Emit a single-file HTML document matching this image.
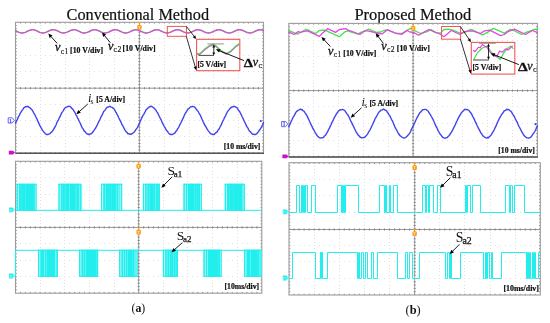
<!DOCTYPE html>
<html><head><meta charset="utf-8"><title>Conventional vs Proposed Method</title>
<style>html,body{margin:0;padding:0;background:#fff;}svg{display:block;}</style>
</head><body>
<svg width="550" height="323" viewBox="0 0 550 323"><rect width="550" height="323" fill="#fff"/>
<text x="66.6" y="19.8" font-family="'Liberation Serif', 'DejaVu Serif', serif" font-size="16.3" font-weight="normal" font-style="normal" fill="#111" text-anchor="start" stroke="#111" stroke-width="0.2">Conventional Method</text>
<text x="354.4" y="20" font-family="'Liberation Serif', 'DejaVu Serif', serif" font-size="16.5" font-weight="normal" font-style="normal" fill="#111" text-anchor="start" stroke="#111" stroke-width="0.2">Proposed Method</text>
<path d="M40 25h1v1h-1zM40 28h1v1h-1zM40 32h1v1h-1zM40 35h1v1h-1zM40 41h1v1h-1zM40 45h1v1h-1zM40 48h1v1h-1zM40 51h1v1h-1zM40 58h1v1h-1zM40 61h1v1h-1zM40 64h1v1h-1zM40 68h1v1h-1zM40 74h1v1h-1zM40 77h1v1h-1zM40 81h1v1h-1zM40 84h1v1h-1zM40 91h1v1h-1zM40 94h1v1h-1zM40 97h1v1h-1zM40 100h1v1h-1zM40 107h1v1h-1zM40 110h1v1h-1zM40 114h1v1h-1zM40 117h1v1h-1zM40 123h1v1h-1zM40 127h1v1h-1zM40 130h1v1h-1zM40 133h1v1h-1zM40 140h1v1h-1zM40 143h1v1h-1zM40 146h1v1h-1zM40 150h1v1h-1zM65 25h1v1h-1zM65 28h1v1h-1zM65 32h1v1h-1zM65 35h1v1h-1zM65 41h1v1h-1zM65 45h1v1h-1zM65 48h1v1h-1zM65 51h1v1h-1zM65 58h1v1h-1zM65 61h1v1h-1zM65 64h1v1h-1zM65 68h1v1h-1zM65 74h1v1h-1zM65 77h1v1h-1zM65 81h1v1h-1zM65 84h1v1h-1zM65 91h1v1h-1zM65 94h1v1h-1zM65 97h1v1h-1zM65 100h1v1h-1zM65 107h1v1h-1zM65 110h1v1h-1zM65 114h1v1h-1zM65 117h1v1h-1zM65 123h1v1h-1zM65 127h1v1h-1zM65 130h1v1h-1zM65 133h1v1h-1zM65 140h1v1h-1zM65 143h1v1h-1zM65 146h1v1h-1zM65 150h1v1h-1zM89 25h1v1h-1zM89 28h1v1h-1zM89 32h1v1h-1zM89 35h1v1h-1zM89 41h1v1h-1zM89 45h1v1h-1zM89 48h1v1h-1zM89 51h1v1h-1zM89 58h1v1h-1zM89 61h1v1h-1zM89 64h1v1h-1zM89 68h1v1h-1zM89 74h1v1h-1zM89 77h1v1h-1zM89 81h1v1h-1zM89 84h1v1h-1zM89 91h1v1h-1zM89 94h1v1h-1zM89 97h1v1h-1zM89 100h1v1h-1zM89 107h1v1h-1zM89 110h1v1h-1zM89 114h1v1h-1zM89 117h1v1h-1zM89 123h1v1h-1zM89 127h1v1h-1zM89 130h1v1h-1zM89 133h1v1h-1zM89 140h1v1h-1zM89 143h1v1h-1zM89 146h1v1h-1zM89 150h1v1h-1zM114 25h1v1h-1zM114 28h1v1h-1zM114 32h1v1h-1zM114 35h1v1h-1zM114 41h1v1h-1zM114 45h1v1h-1zM114 48h1v1h-1zM114 51h1v1h-1zM114 58h1v1h-1zM114 61h1v1h-1zM114 64h1v1h-1zM114 68h1v1h-1zM114 74h1v1h-1zM114 77h1v1h-1zM114 81h1v1h-1zM114 84h1v1h-1zM114 91h1v1h-1zM114 94h1v1h-1zM114 97h1v1h-1zM114 100h1v1h-1zM114 107h1v1h-1zM114 110h1v1h-1zM114 114h1v1h-1zM114 117h1v1h-1zM114 123h1v1h-1zM114 127h1v1h-1zM114 130h1v1h-1zM114 133h1v1h-1zM114 140h1v1h-1zM114 143h1v1h-1zM114 146h1v1h-1zM114 150h1v1h-1zM164 25h1v1h-1zM164 28h1v1h-1zM164 32h1v1h-1zM164 35h1v1h-1zM164 41h1v1h-1zM164 45h1v1h-1zM164 48h1v1h-1zM164 51h1v1h-1zM164 58h1v1h-1zM164 61h1v1h-1zM164 64h1v1h-1zM164 68h1v1h-1zM164 74h1v1h-1zM164 77h1v1h-1zM164 81h1v1h-1zM164 84h1v1h-1zM164 91h1v1h-1zM164 94h1v1h-1zM164 97h1v1h-1zM164 100h1v1h-1zM164 107h1v1h-1zM164 110h1v1h-1zM164 114h1v1h-1zM164 117h1v1h-1zM164 123h1v1h-1zM164 127h1v1h-1zM164 130h1v1h-1zM164 133h1v1h-1zM164 140h1v1h-1zM164 143h1v1h-1zM164 146h1v1h-1zM164 150h1v1h-1zM189 25h1v1h-1zM189 28h1v1h-1zM189 32h1v1h-1zM189 35h1v1h-1zM189 41h1v1h-1zM189 45h1v1h-1zM189 48h1v1h-1zM189 51h1v1h-1zM189 58h1v1h-1zM189 61h1v1h-1zM189 64h1v1h-1zM189 68h1v1h-1zM189 74h1v1h-1zM189 77h1v1h-1zM189 81h1v1h-1zM189 84h1v1h-1zM189 91h1v1h-1zM189 94h1v1h-1zM189 97h1v1h-1zM189 100h1v1h-1zM189 107h1v1h-1zM189 110h1v1h-1zM189 114h1v1h-1zM189 117h1v1h-1zM189 123h1v1h-1zM189 127h1v1h-1zM189 130h1v1h-1zM189 133h1v1h-1zM189 140h1v1h-1zM189 143h1v1h-1zM189 146h1v1h-1zM189 150h1v1h-1zM213 25h1v1h-1zM213 28h1v1h-1zM213 32h1v1h-1zM213 35h1v1h-1zM213 41h1v1h-1zM213 45h1v1h-1zM213 48h1v1h-1zM213 51h1v1h-1zM213 58h1v1h-1zM213 61h1v1h-1zM213 64h1v1h-1zM213 68h1v1h-1zM213 74h1v1h-1zM213 77h1v1h-1zM213 81h1v1h-1zM213 84h1v1h-1zM213 91h1v1h-1zM213 94h1v1h-1zM213 97h1v1h-1zM213 100h1v1h-1zM213 107h1v1h-1zM213 110h1v1h-1zM213 114h1v1h-1zM213 117h1v1h-1zM213 123h1v1h-1zM213 127h1v1h-1zM213 130h1v1h-1zM213 133h1v1h-1zM213 140h1v1h-1zM213 143h1v1h-1zM213 146h1v1h-1zM213 150h1v1h-1zM238 25h1v1h-1zM238 28h1v1h-1zM238 32h1v1h-1zM238 35h1v1h-1zM238 41h1v1h-1zM238 45h1v1h-1zM238 48h1v1h-1zM238 51h1v1h-1zM238 58h1v1h-1zM238 61h1v1h-1zM238 64h1v1h-1zM238 68h1v1h-1zM238 74h1v1h-1zM238 77h1v1h-1zM238 81h1v1h-1zM238 84h1v1h-1zM238 91h1v1h-1zM238 94h1v1h-1zM238 97h1v1h-1zM238 100h1v1h-1zM238 107h1v1h-1zM238 110h1v1h-1zM238 114h1v1h-1zM238 117h1v1h-1zM238 123h1v1h-1zM238 127h1v1h-1zM238 130h1v1h-1zM238 133h1v1h-1zM238 140h1v1h-1zM238 143h1v1h-1zM238 146h1v1h-1zM238 150h1v1h-1zM20 38h1v1h-1zM25 38h1v1h-1zM30 38h1v1h-1zM35 38h1v1h-1zM40 38h1v1h-1zM45 38h1v1h-1zM50 38h1v1h-1zM55 38h1v1h-1zM60 38h1v1h-1zM65 38h1v1h-1zM70 38h1v1h-1zM75 38h1v1h-1zM79 38h1v1h-1zM84 38h1v1h-1zM89 38h1v1h-1zM94 38h1v1h-1zM99 38h1v1h-1zM104 38h1v1h-1zM109 38h1v1h-1zM114 38h1v1h-1zM119 38h1v1h-1zM124 38h1v1h-1zM129 38h1v1h-1zM134 38h1v1h-1zM139 38h1v1h-1zM144 38h1v1h-1zM149 38h1v1h-1zM154 38h1v1h-1zM159 38h1v1h-1zM164 38h1v1h-1zM169 38h1v1h-1zM174 38h1v1h-1zM179 38h1v1h-1zM184 38h1v1h-1zM189 38h1v1h-1zM194 38h1v1h-1zM199 38h1v1h-1zM203 38h1v1h-1zM208 38h1v1h-1zM213 38h1v1h-1zM218 38h1v1h-1zM223 38h1v1h-1zM228 38h1v1h-1zM233 38h1v1h-1zM238 38h1v1h-1zM243 38h1v1h-1zM248 38h1v1h-1zM253 38h1v1h-1zM258 38h1v1h-1zM20 55h1v1h-1zM25 55h1v1h-1zM30 55h1v1h-1zM35 55h1v1h-1zM40 55h1v1h-1zM45 55h1v1h-1zM50 55h1v1h-1zM55 55h1v1h-1zM60 55h1v1h-1zM65 55h1v1h-1zM70 55h1v1h-1zM75 55h1v1h-1zM79 55h1v1h-1zM84 55h1v1h-1zM89 55h1v1h-1zM94 55h1v1h-1zM99 55h1v1h-1zM104 55h1v1h-1zM109 55h1v1h-1zM114 55h1v1h-1zM119 55h1v1h-1zM124 55h1v1h-1zM129 55h1v1h-1zM134 55h1v1h-1zM139 55h1v1h-1zM144 55h1v1h-1zM149 55h1v1h-1zM154 55h1v1h-1zM159 55h1v1h-1zM164 55h1v1h-1zM169 55h1v1h-1zM174 55h1v1h-1zM179 55h1v1h-1zM184 55h1v1h-1zM189 55h1v1h-1zM194 55h1v1h-1zM199 55h1v1h-1zM203 55h1v1h-1zM208 55h1v1h-1zM213 55h1v1h-1zM218 55h1v1h-1zM223 55h1v1h-1zM228 55h1v1h-1zM233 55h1v1h-1zM238 55h1v1h-1zM243 55h1v1h-1zM248 55h1v1h-1zM253 55h1v1h-1zM258 55h1v1h-1zM20 71h1v1h-1zM25 71h1v1h-1zM30 71h1v1h-1zM35 71h1v1h-1zM40 71h1v1h-1zM45 71h1v1h-1zM50 71h1v1h-1zM55 71h1v1h-1zM60 71h1v1h-1zM65 71h1v1h-1zM70 71h1v1h-1zM75 71h1v1h-1zM79 71h1v1h-1zM84 71h1v1h-1zM89 71h1v1h-1zM94 71h1v1h-1zM99 71h1v1h-1zM104 71h1v1h-1zM109 71h1v1h-1zM114 71h1v1h-1zM119 71h1v1h-1zM124 71h1v1h-1zM129 71h1v1h-1zM134 71h1v1h-1zM139 71h1v1h-1zM144 71h1v1h-1zM149 71h1v1h-1zM154 71h1v1h-1zM159 71h1v1h-1zM164 71h1v1h-1zM169 71h1v1h-1zM174 71h1v1h-1zM179 71h1v1h-1zM184 71h1v1h-1zM189 71h1v1h-1zM194 71h1v1h-1zM199 71h1v1h-1zM203 71h1v1h-1zM208 71h1v1h-1zM213 71h1v1h-1zM218 71h1v1h-1zM223 71h1v1h-1zM228 71h1v1h-1zM233 71h1v1h-1zM238 71h1v1h-1zM243 71h1v1h-1zM248 71h1v1h-1zM253 71h1v1h-1zM258 71h1v1h-1zM20 104h1v1h-1zM25 104h1v1h-1zM30 104h1v1h-1zM35 104h1v1h-1zM40 104h1v1h-1zM45 104h1v1h-1zM50 104h1v1h-1zM55 104h1v1h-1zM60 104h1v1h-1zM65 104h1v1h-1zM70 104h1v1h-1zM75 104h1v1h-1zM79 104h1v1h-1zM84 104h1v1h-1zM89 104h1v1h-1zM94 104h1v1h-1zM99 104h1v1h-1zM104 104h1v1h-1zM109 104h1v1h-1zM114 104h1v1h-1zM119 104h1v1h-1zM124 104h1v1h-1zM129 104h1v1h-1zM134 104h1v1h-1zM139 104h1v1h-1zM144 104h1v1h-1zM149 104h1v1h-1zM154 104h1v1h-1zM159 104h1v1h-1zM164 104h1v1h-1zM169 104h1v1h-1zM174 104h1v1h-1zM179 104h1v1h-1zM184 104h1v1h-1zM189 104h1v1h-1zM194 104h1v1h-1zM199 104h1v1h-1zM203 104h1v1h-1zM208 104h1v1h-1zM213 104h1v1h-1zM218 104h1v1h-1zM223 104h1v1h-1zM228 104h1v1h-1zM233 104h1v1h-1zM238 104h1v1h-1zM243 104h1v1h-1zM248 104h1v1h-1zM253 104h1v1h-1zM258 104h1v1h-1zM20 120h1v1h-1zM25 120h1v1h-1zM30 120h1v1h-1zM35 120h1v1h-1zM40 120h1v1h-1zM45 120h1v1h-1zM50 120h1v1h-1zM55 120h1v1h-1zM60 120h1v1h-1zM65 120h1v1h-1zM70 120h1v1h-1zM75 120h1v1h-1zM79 120h1v1h-1zM84 120h1v1h-1zM89 120h1v1h-1zM94 120h1v1h-1zM99 120h1v1h-1zM104 120h1v1h-1zM109 120h1v1h-1zM114 120h1v1h-1zM119 120h1v1h-1zM124 120h1v1h-1zM129 120h1v1h-1zM134 120h1v1h-1zM139 120h1v1h-1zM144 120h1v1h-1zM149 120h1v1h-1zM154 120h1v1h-1zM159 120h1v1h-1zM164 120h1v1h-1zM169 120h1v1h-1zM174 120h1v1h-1zM179 120h1v1h-1zM184 120h1v1h-1zM189 120h1v1h-1zM194 120h1v1h-1zM199 120h1v1h-1zM203 120h1v1h-1zM208 120h1v1h-1zM213 120h1v1h-1zM218 120h1v1h-1zM223 120h1v1h-1zM228 120h1v1h-1zM233 120h1v1h-1zM238 120h1v1h-1zM243 120h1v1h-1zM248 120h1v1h-1zM253 120h1v1h-1zM258 120h1v1h-1zM20 136h1v1h-1zM25 136h1v1h-1zM30 136h1v1h-1zM35 136h1v1h-1zM40 136h1v1h-1zM45 136h1v1h-1zM50 136h1v1h-1zM55 136h1v1h-1zM60 136h1v1h-1zM65 136h1v1h-1zM70 136h1v1h-1zM75 136h1v1h-1zM79 136h1v1h-1zM84 136h1v1h-1zM89 136h1v1h-1zM94 136h1v1h-1zM99 136h1v1h-1zM104 136h1v1h-1zM109 136h1v1h-1zM114 136h1v1h-1zM119 136h1v1h-1zM124 136h1v1h-1zM129 136h1v1h-1zM134 136h1v1h-1zM139 136h1v1h-1zM144 136h1v1h-1zM149 136h1v1h-1zM154 136h1v1h-1zM159 136h1v1h-1zM164 136h1v1h-1zM169 136h1v1h-1zM174 136h1v1h-1zM179 136h1v1h-1zM184 136h1v1h-1zM189 136h1v1h-1zM194 136h1v1h-1zM199 136h1v1h-1zM203 136h1v1h-1zM208 136h1v1h-1zM213 136h1v1h-1zM218 136h1v1h-1zM223 136h1v1h-1zM228 136h1v1h-1zM233 136h1v1h-1zM238 136h1v1h-1zM243 136h1v1h-1zM248 136h1v1h-1zM253 136h1v1h-1zM258 136h1v1h-1z" fill="#e0e0e0"/>
<line x1="15.5" y1="88.2" x2="263.5" y2="88.2" stroke="#999999" stroke-width="1"/>
<line x1="139.4" y1="22.3" x2="139.4" y2="153.3" stroke="#999999" stroke-width="0.9"/>
<path d="M20.46 87.1v2.2M20.46 22.3v1.3M20.46 153.3v-1.3M25.42 87.1v2.2M25.42 22.3v1.3M25.42 153.3v-1.3M30.38 87.1v2.2M30.38 22.3v1.3M30.38 153.3v-1.3M35.34 87.1v2.2M35.34 22.3v1.3M35.34 153.3v-1.3M40.3 87.1v2.2M40.3 22.3v1.3M40.3 153.3v-1.3M45.26 87.1v2.2M45.26 22.3v1.3M45.26 153.3v-1.3M50.22 87.1v2.2M50.22 22.3v1.3M50.22 153.3v-1.3M55.18 87.1v2.2M55.18 22.3v1.3M55.18 153.3v-1.3M60.14 87.1v2.2M60.14 22.3v1.3M60.14 153.3v-1.3M65.1 87.1v2.2M65.1 22.3v1.3M65.1 153.3v-1.3M70.06 87.1v2.2M70.06 22.3v1.3M70.06 153.3v-1.3M75.02 87.1v2.2M75.02 22.3v1.3M75.02 153.3v-1.3M79.98 87.1v2.2M79.98 22.3v1.3M79.98 153.3v-1.3M84.94 87.1v2.2M84.94 22.3v1.3M84.94 153.3v-1.3M89.9 87.1v2.2M89.9 22.3v1.3M89.9 153.3v-1.3M94.86 87.1v2.2M94.86 22.3v1.3M94.86 153.3v-1.3M99.82 87.1v2.2M99.82 22.3v1.3M99.82 153.3v-1.3M104.78 87.1v2.2M104.78 22.3v1.3M104.78 153.3v-1.3M109.74 87.1v2.2M109.74 22.3v1.3M109.74 153.3v-1.3M114.7 87.1v2.2M114.7 22.3v1.3M114.7 153.3v-1.3M119.66 87.1v2.2M119.66 22.3v1.3M119.66 153.3v-1.3M124.62 87.1v2.2M124.62 22.3v1.3M124.62 153.3v-1.3M129.58 87.1v2.2M129.58 22.3v1.3M129.58 153.3v-1.3M134.54 87.1v2.2M134.54 22.3v1.3M134.54 153.3v-1.3M139.5 87.1v2.2M139.5 22.3v1.3M139.5 153.3v-1.3M144.46 87.1v2.2M144.46 22.3v1.3M144.46 153.3v-1.3M149.42 87.1v2.2M149.42 22.3v1.3M149.42 153.3v-1.3M154.38 87.1v2.2M154.38 22.3v1.3M154.38 153.3v-1.3M159.34 87.1v2.2M159.34 22.3v1.3M159.34 153.3v-1.3M164.3 87.1v2.2M164.3 22.3v1.3M164.3 153.3v-1.3M169.26 87.1v2.2M169.26 22.3v1.3M169.26 153.3v-1.3M174.22 87.1v2.2M174.22 22.3v1.3M174.22 153.3v-1.3M179.18 87.1v2.2M179.18 22.3v1.3M179.18 153.3v-1.3M184.14 87.1v2.2M184.14 22.3v1.3M184.14 153.3v-1.3M189.1 87.1v2.2M189.1 22.3v1.3M189.1 153.3v-1.3M194.06 87.1v2.2M194.06 22.3v1.3M194.06 153.3v-1.3M199.02 87.1v2.2M199.02 22.3v1.3M199.02 153.3v-1.3M203.98 87.1v2.2M203.98 22.3v1.3M203.98 153.3v-1.3M208.94 87.1v2.2M208.94 22.3v1.3M208.94 153.3v-1.3M213.9 87.1v2.2M213.9 22.3v1.3M213.9 153.3v-1.3M218.86 87.1v2.2M218.86 22.3v1.3M218.86 153.3v-1.3M223.82 87.1v2.2M223.82 22.3v1.3M223.82 153.3v-1.3M228.78 87.1v2.2M228.78 22.3v1.3M228.78 153.3v-1.3M233.74 87.1v2.2M233.74 22.3v1.3M233.74 153.3v-1.3M238.7 87.1v2.2M238.7 22.3v1.3M238.7 153.3v-1.3M243.66 87.1v2.2M243.66 22.3v1.3M243.66 153.3v-1.3M248.62 87.1v2.2M248.62 22.3v1.3M248.62 153.3v-1.3M253.58 87.1v2.2M253.58 22.3v1.3M253.58 153.3v-1.3M258.54 87.1v2.2M258.54 22.3v1.3M258.54 153.3v-1.3M138.3 25.57h2.2M15.5 25.57h1.3M263.5 25.57h-1.3M138.3 28.85h2.2M15.5 28.85h1.3M263.5 28.85h-1.3M138.3 32.12h2.2M15.5 32.12h1.3M263.5 32.12h-1.3M138.3 35.4h2.2M15.5 35.4h1.3M263.5 35.4h-1.3M138.3 38.67h2.2M15.5 38.67h1.3M263.5 38.67h-1.3M138.3 41.95h2.2M15.5 41.95h1.3M263.5 41.95h-1.3M138.3 45.23h2.2M15.5 45.23h1.3M263.5 45.23h-1.3M138.3 48.5h2.2M15.5 48.5h1.3M263.5 48.5h-1.3M138.3 51.78h2.2M15.5 51.78h1.3M263.5 51.78h-1.3M138.3 55.05h2.2M15.5 55.05h1.3M263.5 55.05h-1.3M138.3 58.33h2.2M15.5 58.33h1.3M263.5 58.33h-1.3M138.3 61.6h2.2M15.5 61.6h1.3M263.5 61.6h-1.3M138.3 64.88h2.2M15.5 64.88h1.3M263.5 64.88h-1.3M138.3 68.15h2.2M15.5 68.15h1.3M263.5 68.15h-1.3M138.3 71.42h2.2M15.5 71.42h1.3M263.5 71.42h-1.3M138.3 74.7h2.2M15.5 74.7h1.3M263.5 74.7h-1.3M138.3 77.97h2.2M15.5 77.97h1.3M263.5 77.97h-1.3M138.3 81.25h2.2M15.5 81.25h1.3M263.5 81.25h-1.3M138.3 84.53h2.2M15.5 84.53h1.3M263.5 84.53h-1.3M138.3 87.8h2.2M15.5 87.8h1.3M263.5 87.8h-1.3M138.3 91.08h2.2M15.5 91.08h1.3M263.5 91.08h-1.3M138.3 94.35h2.2M15.5 94.35h1.3M263.5 94.35h-1.3M138.3 97.62h2.2M15.5 97.62h1.3M263.5 97.62h-1.3M138.3 100.9h2.2M15.5 100.9h1.3M263.5 100.9h-1.3M138.3 104.17h2.2M15.5 104.17h1.3M263.5 104.17h-1.3M138.3 107.45h2.2M15.5 107.45h1.3M263.5 107.45h-1.3M138.3 110.72h2.2M15.5 110.72h1.3M263.5 110.72h-1.3M138.3 114h2.2M15.5 114h1.3M263.5 114h-1.3M138.3 117.27h2.2M15.5 117.27h1.3M263.5 117.27h-1.3M138.3 120.55h2.2M15.5 120.55h1.3M263.5 120.55h-1.3M138.3 123.83h2.2M15.5 123.83h1.3M263.5 123.83h-1.3M138.3 127.1h2.2M15.5 127.1h1.3M263.5 127.1h-1.3M138.3 130.38h2.2M15.5 130.38h1.3M263.5 130.38h-1.3M138.3 133.65h2.2M15.5 133.65h1.3M263.5 133.65h-1.3M138.3 136.93h2.2M15.5 136.93h1.3M263.5 136.93h-1.3M138.3 140.2h2.2M15.5 140.2h1.3M263.5 140.2h-1.3M138.3 143.47h2.2M15.5 143.47h1.3M263.5 143.47h-1.3M138.3 146.75h2.2M15.5 146.75h1.3M263.5 146.75h-1.3M138.3 150.03h2.2M15.5 150.03h1.3M263.5 150.03h-1.3" stroke="#777777" stroke-width="0.8" fill="none"/>
<rect x="15.5" y="22.3" width="248" height="131" fill="none" stroke="#9c9c9c" stroke-width="1.1"/>
<line x1="15.5" y1="153.3" x2="264" y2="153.3" stroke="#555" stroke-width="1.4"/>
<path d="M313 26h1v1h-1zM313 30h1v1h-1zM313 33h1v1h-1zM313 36h1v1h-1zM313 43h1v1h-1zM313 46h1v1h-1zM313 50h1v1h-1zM313 53h1v1h-1zM313 60h1v1h-1zM313 63h1v1h-1zM313 66h1v1h-1zM313 70h1v1h-1zM313 76h1v1h-1zM313 80h1v1h-1zM313 83h1v1h-1zM313 86h1v1h-1zM313 93h1v1h-1zM313 96h1v1h-1zM313 100h1v1h-1zM313 103h1v1h-1zM313 110h1v1h-1zM313 113h1v1h-1zM313 116h1v1h-1zM313 120h1v1h-1zM313 126h1v1h-1zM313 130h1v1h-1zM313 133h1v1h-1zM313 136h1v1h-1zM313 143h1v1h-1zM313 146h1v1h-1zM313 150h1v1h-1zM313 153h1v1h-1zM338 26h1v1h-1zM338 30h1v1h-1zM338 33h1v1h-1zM338 36h1v1h-1zM338 43h1v1h-1zM338 46h1v1h-1zM338 50h1v1h-1zM338 53h1v1h-1zM338 60h1v1h-1zM338 63h1v1h-1zM338 66h1v1h-1zM338 70h1v1h-1zM338 76h1v1h-1zM338 80h1v1h-1zM338 83h1v1h-1zM338 86h1v1h-1zM338 93h1v1h-1zM338 96h1v1h-1zM338 100h1v1h-1zM338 103h1v1h-1zM338 110h1v1h-1zM338 113h1v1h-1zM338 116h1v1h-1zM338 120h1v1h-1zM338 126h1v1h-1zM338 130h1v1h-1zM338 133h1v1h-1zM338 136h1v1h-1zM338 143h1v1h-1zM338 146h1v1h-1zM338 150h1v1h-1zM338 153h1v1h-1zM363 26h1v1h-1zM363 30h1v1h-1zM363 33h1v1h-1zM363 36h1v1h-1zM363 43h1v1h-1zM363 46h1v1h-1zM363 50h1v1h-1zM363 53h1v1h-1zM363 60h1v1h-1zM363 63h1v1h-1zM363 66h1v1h-1zM363 70h1v1h-1zM363 76h1v1h-1zM363 80h1v1h-1zM363 83h1v1h-1zM363 86h1v1h-1zM363 93h1v1h-1zM363 96h1v1h-1zM363 100h1v1h-1zM363 103h1v1h-1zM363 110h1v1h-1zM363 113h1v1h-1zM363 116h1v1h-1zM363 120h1v1h-1zM363 126h1v1h-1zM363 130h1v1h-1zM363 133h1v1h-1zM363 136h1v1h-1zM363 143h1v1h-1zM363 146h1v1h-1zM363 150h1v1h-1zM363 153h1v1h-1zM388 26h1v1h-1zM388 30h1v1h-1zM388 33h1v1h-1zM388 36h1v1h-1zM388 43h1v1h-1zM388 46h1v1h-1zM388 50h1v1h-1zM388 53h1v1h-1zM388 60h1v1h-1zM388 63h1v1h-1zM388 66h1v1h-1zM388 70h1v1h-1zM388 76h1v1h-1zM388 80h1v1h-1zM388 83h1v1h-1zM388 86h1v1h-1zM388 93h1v1h-1zM388 96h1v1h-1zM388 100h1v1h-1zM388 103h1v1h-1zM388 110h1v1h-1zM388 113h1v1h-1zM388 116h1v1h-1zM388 120h1v1h-1zM388 126h1v1h-1zM388 130h1v1h-1zM388 133h1v1h-1zM388 136h1v1h-1zM388 143h1v1h-1zM388 146h1v1h-1zM388 150h1v1h-1zM388 153h1v1h-1zM437 26h1v1h-1zM437 30h1v1h-1zM437 33h1v1h-1zM437 36h1v1h-1zM437 43h1v1h-1zM437 46h1v1h-1zM437 50h1v1h-1zM437 53h1v1h-1zM437 60h1v1h-1zM437 63h1v1h-1zM437 66h1v1h-1zM437 70h1v1h-1zM437 76h1v1h-1zM437 80h1v1h-1zM437 83h1v1h-1zM437 86h1v1h-1zM437 93h1v1h-1zM437 96h1v1h-1zM437 100h1v1h-1zM437 103h1v1h-1zM437 110h1v1h-1zM437 113h1v1h-1zM437 116h1v1h-1zM437 120h1v1h-1zM437 126h1v1h-1zM437 130h1v1h-1zM437 133h1v1h-1zM437 136h1v1h-1zM437 143h1v1h-1zM437 146h1v1h-1zM437 150h1v1h-1zM437 153h1v1h-1zM462 26h1v1h-1zM462 30h1v1h-1zM462 33h1v1h-1zM462 36h1v1h-1zM462 43h1v1h-1zM462 46h1v1h-1zM462 50h1v1h-1zM462 53h1v1h-1zM462 60h1v1h-1zM462 63h1v1h-1zM462 66h1v1h-1zM462 70h1v1h-1zM462 76h1v1h-1zM462 80h1v1h-1zM462 83h1v1h-1zM462 86h1v1h-1zM462 93h1v1h-1zM462 96h1v1h-1zM462 100h1v1h-1zM462 103h1v1h-1zM462 110h1v1h-1zM462 113h1v1h-1zM462 116h1v1h-1zM462 120h1v1h-1zM462 126h1v1h-1zM462 130h1v1h-1zM462 133h1v1h-1zM462 136h1v1h-1zM462 143h1v1h-1zM462 146h1v1h-1zM462 150h1v1h-1zM462 153h1v1h-1zM487 26h1v1h-1zM487 30h1v1h-1zM487 33h1v1h-1zM487 36h1v1h-1zM487 43h1v1h-1zM487 46h1v1h-1zM487 50h1v1h-1zM487 53h1v1h-1zM487 60h1v1h-1zM487 63h1v1h-1zM487 66h1v1h-1zM487 70h1v1h-1zM487 76h1v1h-1zM487 80h1v1h-1zM487 83h1v1h-1zM487 86h1v1h-1zM487 93h1v1h-1zM487 96h1v1h-1zM487 100h1v1h-1zM487 103h1v1h-1zM487 110h1v1h-1zM487 113h1v1h-1zM487 116h1v1h-1zM487 120h1v1h-1zM487 126h1v1h-1zM487 130h1v1h-1zM487 133h1v1h-1zM487 136h1v1h-1zM487 143h1v1h-1zM487 146h1v1h-1zM487 150h1v1h-1zM487 153h1v1h-1zM512 26h1v1h-1zM512 30h1v1h-1zM512 33h1v1h-1zM512 36h1v1h-1zM512 43h1v1h-1zM512 46h1v1h-1zM512 50h1v1h-1zM512 53h1v1h-1zM512 60h1v1h-1zM512 63h1v1h-1zM512 66h1v1h-1zM512 70h1v1h-1zM512 76h1v1h-1zM512 80h1v1h-1zM512 83h1v1h-1zM512 86h1v1h-1zM512 93h1v1h-1zM512 96h1v1h-1zM512 100h1v1h-1zM512 103h1v1h-1zM512 110h1v1h-1zM512 113h1v1h-1zM512 116h1v1h-1zM512 120h1v1h-1zM512 126h1v1h-1zM512 130h1v1h-1zM512 133h1v1h-1zM512 136h1v1h-1zM512 143h1v1h-1zM512 146h1v1h-1zM512 150h1v1h-1zM512 153h1v1h-1zM293 40h1v1h-1zM298 40h1v1h-1zM303 40h1v1h-1zM308 40h1v1h-1zM313 40h1v1h-1zM318 40h1v1h-1zM323 40h1v1h-1zM328 40h1v1h-1zM333 40h1v1h-1zM338 40h1v1h-1zM343 40h1v1h-1zM348 40h1v1h-1zM353 40h1v1h-1zM358 40h1v1h-1zM363 40h1v1h-1zM368 40h1v1h-1zM373 40h1v1h-1zM378 40h1v1h-1zM383 40h1v1h-1zM388 40h1v1h-1zM393 40h1v1h-1zM398 40h1v1h-1zM403 40h1v1h-1zM408 40h1v1h-1zM413 40h1v1h-1zM418 40h1v1h-1zM423 40h1v1h-1zM428 40h1v1h-1zM432 40h1v1h-1zM437 40h1v1h-1zM442 40h1v1h-1zM447 40h1v1h-1zM452 40h1v1h-1zM457 40h1v1h-1zM462 40h1v1h-1zM467 40h1v1h-1zM472 40h1v1h-1zM477 40h1v1h-1zM482 40h1v1h-1zM487 40h1v1h-1zM492 40h1v1h-1zM497 40h1v1h-1zM502 40h1v1h-1zM507 40h1v1h-1zM512 40h1v1h-1zM517 40h1v1h-1zM522 40h1v1h-1zM527 40h1v1h-1zM532 40h1v1h-1zM293 56h1v1h-1zM298 56h1v1h-1zM303 56h1v1h-1zM308 56h1v1h-1zM313 56h1v1h-1zM318 56h1v1h-1zM323 56h1v1h-1zM328 56h1v1h-1zM333 56h1v1h-1zM338 56h1v1h-1zM343 56h1v1h-1zM348 56h1v1h-1zM353 56h1v1h-1zM358 56h1v1h-1zM363 56h1v1h-1zM368 56h1v1h-1zM373 56h1v1h-1zM378 56h1v1h-1zM383 56h1v1h-1zM388 56h1v1h-1zM393 56h1v1h-1zM398 56h1v1h-1zM403 56h1v1h-1zM408 56h1v1h-1zM413 56h1v1h-1zM418 56h1v1h-1zM423 56h1v1h-1zM428 56h1v1h-1zM432 56h1v1h-1zM437 56h1v1h-1zM442 56h1v1h-1zM447 56h1v1h-1zM452 56h1v1h-1zM457 56h1v1h-1zM462 56h1v1h-1zM467 56h1v1h-1zM472 56h1v1h-1zM477 56h1v1h-1zM482 56h1v1h-1zM487 56h1v1h-1zM492 56h1v1h-1zM497 56h1v1h-1zM502 56h1v1h-1zM507 56h1v1h-1zM512 56h1v1h-1zM517 56h1v1h-1zM522 56h1v1h-1zM527 56h1v1h-1zM532 56h1v1h-1zM293 73h1v1h-1zM298 73h1v1h-1zM303 73h1v1h-1zM308 73h1v1h-1zM313 73h1v1h-1zM318 73h1v1h-1zM323 73h1v1h-1zM328 73h1v1h-1zM333 73h1v1h-1zM338 73h1v1h-1zM343 73h1v1h-1zM348 73h1v1h-1zM353 73h1v1h-1zM358 73h1v1h-1zM363 73h1v1h-1zM368 73h1v1h-1zM373 73h1v1h-1zM378 73h1v1h-1zM383 73h1v1h-1zM388 73h1v1h-1zM393 73h1v1h-1zM398 73h1v1h-1zM403 73h1v1h-1zM408 73h1v1h-1zM413 73h1v1h-1zM418 73h1v1h-1zM423 73h1v1h-1zM428 73h1v1h-1zM432 73h1v1h-1zM437 73h1v1h-1zM442 73h1v1h-1zM447 73h1v1h-1zM452 73h1v1h-1zM457 73h1v1h-1zM462 73h1v1h-1zM467 73h1v1h-1zM472 73h1v1h-1zM477 73h1v1h-1zM482 73h1v1h-1zM487 73h1v1h-1zM492 73h1v1h-1zM497 73h1v1h-1zM502 73h1v1h-1zM507 73h1v1h-1zM512 73h1v1h-1zM517 73h1v1h-1zM522 73h1v1h-1zM527 73h1v1h-1zM532 73h1v1h-1zM293 106h1v1h-1zM298 106h1v1h-1zM303 106h1v1h-1zM308 106h1v1h-1zM313 106h1v1h-1zM318 106h1v1h-1zM323 106h1v1h-1zM328 106h1v1h-1zM333 106h1v1h-1zM338 106h1v1h-1zM343 106h1v1h-1zM348 106h1v1h-1zM353 106h1v1h-1zM358 106h1v1h-1zM363 106h1v1h-1zM368 106h1v1h-1zM373 106h1v1h-1zM378 106h1v1h-1zM383 106h1v1h-1zM388 106h1v1h-1zM393 106h1v1h-1zM398 106h1v1h-1zM403 106h1v1h-1zM408 106h1v1h-1zM413 106h1v1h-1zM418 106h1v1h-1zM423 106h1v1h-1zM428 106h1v1h-1zM432 106h1v1h-1zM437 106h1v1h-1zM442 106h1v1h-1zM447 106h1v1h-1zM452 106h1v1h-1zM457 106h1v1h-1zM462 106h1v1h-1zM467 106h1v1h-1zM472 106h1v1h-1zM477 106h1v1h-1zM482 106h1v1h-1zM487 106h1v1h-1zM492 106h1v1h-1zM497 106h1v1h-1zM502 106h1v1h-1zM507 106h1v1h-1zM512 106h1v1h-1zM517 106h1v1h-1zM522 106h1v1h-1zM527 106h1v1h-1zM532 106h1v1h-1zM293 123h1v1h-1zM298 123h1v1h-1zM303 123h1v1h-1zM308 123h1v1h-1zM313 123h1v1h-1zM318 123h1v1h-1zM323 123h1v1h-1zM328 123h1v1h-1zM333 123h1v1h-1zM338 123h1v1h-1zM343 123h1v1h-1zM348 123h1v1h-1zM353 123h1v1h-1zM358 123h1v1h-1zM363 123h1v1h-1zM368 123h1v1h-1zM373 123h1v1h-1zM378 123h1v1h-1zM383 123h1v1h-1zM388 123h1v1h-1zM393 123h1v1h-1zM398 123h1v1h-1zM403 123h1v1h-1zM408 123h1v1h-1zM413 123h1v1h-1zM418 123h1v1h-1zM423 123h1v1h-1zM428 123h1v1h-1zM432 123h1v1h-1zM437 123h1v1h-1zM442 123h1v1h-1zM447 123h1v1h-1zM452 123h1v1h-1zM457 123h1v1h-1zM462 123h1v1h-1zM467 123h1v1h-1zM472 123h1v1h-1zM477 123h1v1h-1zM482 123h1v1h-1zM487 123h1v1h-1zM492 123h1v1h-1zM497 123h1v1h-1zM502 123h1v1h-1zM507 123h1v1h-1zM512 123h1v1h-1zM517 123h1v1h-1zM522 123h1v1h-1zM527 123h1v1h-1zM532 123h1v1h-1zM293 140h1v1h-1zM298 140h1v1h-1zM303 140h1v1h-1zM308 140h1v1h-1zM313 140h1v1h-1zM318 140h1v1h-1zM323 140h1v1h-1zM328 140h1v1h-1zM333 140h1v1h-1zM338 140h1v1h-1zM343 140h1v1h-1zM348 140h1v1h-1zM353 140h1v1h-1zM358 140h1v1h-1zM363 140h1v1h-1zM368 140h1v1h-1zM373 140h1v1h-1zM378 140h1v1h-1zM383 140h1v1h-1zM388 140h1v1h-1zM393 140h1v1h-1zM398 140h1v1h-1zM403 140h1v1h-1zM408 140h1v1h-1zM413 140h1v1h-1zM418 140h1v1h-1zM423 140h1v1h-1zM428 140h1v1h-1zM432 140h1v1h-1zM437 140h1v1h-1zM442 140h1v1h-1zM447 140h1v1h-1zM452 140h1v1h-1zM457 140h1v1h-1zM462 140h1v1h-1zM467 140h1v1h-1zM472 140h1v1h-1zM477 140h1v1h-1zM482 140h1v1h-1zM487 140h1v1h-1zM492 140h1v1h-1zM497 140h1v1h-1zM502 140h1v1h-1zM507 140h1v1h-1zM512 140h1v1h-1zM517 140h1v1h-1zM522 140h1v1h-1zM527 140h1v1h-1zM532 140h1v1h-1z" fill="#e0e0e0"/>
<line x1="288.8" y1="90.6" x2="537.4" y2="90.6" stroke="#999999" stroke-width="1"/>
<line x1="413.1" y1="23.4" x2="413.1" y2="157" stroke="#999999" stroke-width="0.9"/>
<path d="M293.77 89.5v2.2M293.77 23.4v1.3M293.77 157v-1.3M298.74 89.5v2.2M298.74 23.4v1.3M298.74 157v-1.3M303.72 89.5v2.2M303.72 23.4v1.3M303.72 157v-1.3M308.69 89.5v2.2M308.69 23.4v1.3M308.69 157v-1.3M313.66 89.5v2.2M313.66 23.4v1.3M313.66 157v-1.3M318.63 89.5v2.2M318.63 23.4v1.3M318.63 157v-1.3M323.6 89.5v2.2M323.6 23.4v1.3M323.6 157v-1.3M328.58 89.5v2.2M328.58 23.4v1.3M328.58 157v-1.3M333.55 89.5v2.2M333.55 23.4v1.3M333.55 157v-1.3M338.52 89.5v2.2M338.52 23.4v1.3M338.52 157v-1.3M343.49 89.5v2.2M343.49 23.4v1.3M343.49 157v-1.3M348.46 89.5v2.2M348.46 23.4v1.3M348.46 157v-1.3M353.44 89.5v2.2M353.44 23.4v1.3M353.44 157v-1.3M358.41 89.5v2.2M358.41 23.4v1.3M358.41 157v-1.3M363.38 89.5v2.2M363.38 23.4v1.3M363.38 157v-1.3M368.35 89.5v2.2M368.35 23.4v1.3M368.35 157v-1.3M373.32 89.5v2.2M373.32 23.4v1.3M373.32 157v-1.3M378.3 89.5v2.2M378.3 23.4v1.3M378.3 157v-1.3M383.27 89.5v2.2M383.27 23.4v1.3M383.27 157v-1.3M388.24 89.5v2.2M388.24 23.4v1.3M388.24 157v-1.3M393.21 89.5v2.2M393.21 23.4v1.3M393.21 157v-1.3M398.18 89.5v2.2M398.18 23.4v1.3M398.18 157v-1.3M403.16 89.5v2.2M403.16 23.4v1.3M403.16 157v-1.3M408.13 89.5v2.2M408.13 23.4v1.3M408.13 157v-1.3M413.1 89.5v2.2M413.1 23.4v1.3M413.1 157v-1.3M418.07 89.5v2.2M418.07 23.4v1.3M418.07 157v-1.3M423.04 89.5v2.2M423.04 23.4v1.3M423.04 157v-1.3M428.02 89.5v2.2M428.02 23.4v1.3M428.02 157v-1.3M432.99 89.5v2.2M432.99 23.4v1.3M432.99 157v-1.3M437.96 89.5v2.2M437.96 23.4v1.3M437.96 157v-1.3M442.93 89.5v2.2M442.93 23.4v1.3M442.93 157v-1.3M447.9 89.5v2.2M447.9 23.4v1.3M447.9 157v-1.3M452.88 89.5v2.2M452.88 23.4v1.3M452.88 157v-1.3M457.85 89.5v2.2M457.85 23.4v1.3M457.85 157v-1.3M462.82 89.5v2.2M462.82 23.4v1.3M462.82 157v-1.3M467.79 89.5v2.2M467.79 23.4v1.3M467.79 157v-1.3M472.76 89.5v2.2M472.76 23.4v1.3M472.76 157v-1.3M477.74 89.5v2.2M477.74 23.4v1.3M477.74 157v-1.3M482.71 89.5v2.2M482.71 23.4v1.3M482.71 157v-1.3M487.68 89.5v2.2M487.68 23.4v1.3M487.68 157v-1.3M492.65 89.5v2.2M492.65 23.4v1.3M492.65 157v-1.3M497.62 89.5v2.2M497.62 23.4v1.3M497.62 157v-1.3M502.6 89.5v2.2M502.6 23.4v1.3M502.6 157v-1.3M507.57 89.5v2.2M507.57 23.4v1.3M507.57 157v-1.3M512.54 89.5v2.2M512.54 23.4v1.3M512.54 157v-1.3M517.51 89.5v2.2M517.51 23.4v1.3M517.51 157v-1.3M522.48 89.5v2.2M522.48 23.4v1.3M522.48 157v-1.3M527.46 89.5v2.2M527.46 23.4v1.3M527.46 157v-1.3M532.43 89.5v2.2M532.43 23.4v1.3M532.43 157v-1.3M412 26.74h2.2M288.8 26.74h1.3M537.4 26.74h-1.3M412 30.08h2.2M288.8 30.08h1.3M537.4 30.08h-1.3M412 33.42h2.2M288.8 33.42h1.3M537.4 33.42h-1.3M412 36.76h2.2M288.8 36.76h1.3M537.4 36.76h-1.3M412 40.1h2.2M288.8 40.1h1.3M537.4 40.1h-1.3M412 43.44h2.2M288.8 43.44h1.3M537.4 43.44h-1.3M412 46.78h2.2M288.8 46.78h1.3M537.4 46.78h-1.3M412 50.12h2.2M288.8 50.12h1.3M537.4 50.12h-1.3M412 53.46h2.2M288.8 53.46h1.3M537.4 53.46h-1.3M412 56.8h2.2M288.8 56.8h1.3M537.4 56.8h-1.3M412 60.14h2.2M288.8 60.14h1.3M537.4 60.14h-1.3M412 63.48h2.2M288.8 63.48h1.3M537.4 63.48h-1.3M412 66.82h2.2M288.8 66.82h1.3M537.4 66.82h-1.3M412 70.16h2.2M288.8 70.16h1.3M537.4 70.16h-1.3M412 73.5h2.2M288.8 73.5h1.3M537.4 73.5h-1.3M412 76.84h2.2M288.8 76.84h1.3M537.4 76.84h-1.3M412 80.18h2.2M288.8 80.18h1.3M537.4 80.18h-1.3M412 83.52h2.2M288.8 83.52h1.3M537.4 83.52h-1.3M412 86.86h2.2M288.8 86.86h1.3M537.4 86.86h-1.3M412 90.2h2.2M288.8 90.2h1.3M537.4 90.2h-1.3M412 93.54h2.2M288.8 93.54h1.3M537.4 93.54h-1.3M412 96.88h2.2M288.8 96.88h1.3M537.4 96.88h-1.3M412 100.22h2.2M288.8 100.22h1.3M537.4 100.22h-1.3M412 103.56h2.2M288.8 103.56h1.3M537.4 103.56h-1.3M412 106.9h2.2M288.8 106.9h1.3M537.4 106.9h-1.3M412 110.24h2.2M288.8 110.24h1.3M537.4 110.24h-1.3M412 113.58h2.2M288.8 113.58h1.3M537.4 113.58h-1.3M412 116.92h2.2M288.8 116.92h1.3M537.4 116.92h-1.3M412 120.26h2.2M288.8 120.26h1.3M537.4 120.26h-1.3M412 123.6h2.2M288.8 123.6h1.3M537.4 123.6h-1.3M412 126.94h2.2M288.8 126.94h1.3M537.4 126.94h-1.3M412 130.28h2.2M288.8 130.28h1.3M537.4 130.28h-1.3M412 133.62h2.2M288.8 133.62h1.3M537.4 133.62h-1.3M412 136.96h2.2M288.8 136.96h1.3M537.4 136.96h-1.3M412 140.3h2.2M288.8 140.3h1.3M537.4 140.3h-1.3M412 143.64h2.2M288.8 143.64h1.3M537.4 143.64h-1.3M412 146.98h2.2M288.8 146.98h1.3M537.4 146.98h-1.3M412 150.32h2.2M288.8 150.32h1.3M537.4 150.32h-1.3M412 153.66h2.2M288.8 153.66h1.3M537.4 153.66h-1.3" stroke="#777777" stroke-width="0.8" fill="none"/>
<rect x="288.8" y="23.4" width="248.6" height="133.6" fill="none" stroke="#9c9c9c" stroke-width="1.1"/>
<line x1="288.8" y1="157" x2="537.9" y2="157" stroke="#555" stroke-width="1.4"/>
<path d="M40 164h1v1h-1zM40 167h1v1h-1zM40 171h1v1h-1zM40 174h1v1h-1zM40 181h1v1h-1zM40 184h1v1h-1zM40 187h1v1h-1zM40 190h1v1h-1zM40 197h1v1h-1zM40 200h1v1h-1zM40 204h1v1h-1zM40 207h1v1h-1zM40 214h1v1h-1zM40 217h1v1h-1zM40 220h1v1h-1zM40 223h1v1h-1zM40 230h1v1h-1zM40 233h1v1h-1zM40 237h1v1h-1zM40 240h1v1h-1zM40 247h1v1h-1zM40 250h1v1h-1zM40 253h1v1h-1zM40 256h1v1h-1zM40 263h1v1h-1zM40 266h1v1h-1zM40 270h1v1h-1zM40 273h1v1h-1zM40 280h1v1h-1zM40 283h1v1h-1zM40 286h1v1h-1zM40 289h1v1h-1zM64 164h1v1h-1zM64 167h1v1h-1zM64 171h1v1h-1zM64 174h1v1h-1zM64 181h1v1h-1zM64 184h1v1h-1zM64 187h1v1h-1zM64 190h1v1h-1zM64 197h1v1h-1zM64 200h1v1h-1zM64 204h1v1h-1zM64 207h1v1h-1zM64 214h1v1h-1zM64 217h1v1h-1zM64 220h1v1h-1zM64 223h1v1h-1zM64 230h1v1h-1zM64 233h1v1h-1zM64 237h1v1h-1zM64 240h1v1h-1zM64 247h1v1h-1zM64 250h1v1h-1zM64 253h1v1h-1zM64 256h1v1h-1zM64 263h1v1h-1zM64 266h1v1h-1zM64 270h1v1h-1zM64 273h1v1h-1zM64 280h1v1h-1zM64 283h1v1h-1zM64 286h1v1h-1zM64 289h1v1h-1zM89 164h1v1h-1zM89 167h1v1h-1zM89 171h1v1h-1zM89 174h1v1h-1zM89 181h1v1h-1zM89 184h1v1h-1zM89 187h1v1h-1zM89 190h1v1h-1zM89 197h1v1h-1zM89 200h1v1h-1zM89 204h1v1h-1zM89 207h1v1h-1zM89 214h1v1h-1zM89 217h1v1h-1zM89 220h1v1h-1zM89 223h1v1h-1zM89 230h1v1h-1zM89 233h1v1h-1zM89 237h1v1h-1zM89 240h1v1h-1zM89 247h1v1h-1zM89 250h1v1h-1zM89 253h1v1h-1zM89 256h1v1h-1zM89 263h1v1h-1zM89 266h1v1h-1zM89 270h1v1h-1zM89 273h1v1h-1zM89 280h1v1h-1zM89 283h1v1h-1zM89 286h1v1h-1zM89 289h1v1h-1zM114 164h1v1h-1zM114 167h1v1h-1zM114 171h1v1h-1zM114 174h1v1h-1zM114 181h1v1h-1zM114 184h1v1h-1zM114 187h1v1h-1zM114 190h1v1h-1zM114 197h1v1h-1zM114 200h1v1h-1zM114 204h1v1h-1zM114 207h1v1h-1zM114 214h1v1h-1zM114 217h1v1h-1zM114 220h1v1h-1zM114 223h1v1h-1zM114 230h1v1h-1zM114 233h1v1h-1zM114 237h1v1h-1zM114 240h1v1h-1zM114 247h1v1h-1zM114 250h1v1h-1zM114 253h1v1h-1zM114 256h1v1h-1zM114 263h1v1h-1zM114 266h1v1h-1zM114 270h1v1h-1zM114 273h1v1h-1zM114 280h1v1h-1zM114 283h1v1h-1zM114 286h1v1h-1zM114 289h1v1h-1zM163 164h1v1h-1zM163 167h1v1h-1zM163 171h1v1h-1zM163 174h1v1h-1zM163 181h1v1h-1zM163 184h1v1h-1zM163 187h1v1h-1zM163 190h1v1h-1zM163 197h1v1h-1zM163 200h1v1h-1zM163 204h1v1h-1zM163 207h1v1h-1zM163 214h1v1h-1zM163 217h1v1h-1zM163 220h1v1h-1zM163 223h1v1h-1zM163 230h1v1h-1zM163 233h1v1h-1zM163 237h1v1h-1zM163 240h1v1h-1zM163 247h1v1h-1zM163 250h1v1h-1zM163 253h1v1h-1zM163 256h1v1h-1zM163 263h1v1h-1zM163 266h1v1h-1zM163 270h1v1h-1zM163 273h1v1h-1zM163 280h1v1h-1zM163 283h1v1h-1zM163 286h1v1h-1zM163 289h1v1h-1zM187 164h1v1h-1zM187 167h1v1h-1zM187 171h1v1h-1zM187 174h1v1h-1zM187 181h1v1h-1zM187 184h1v1h-1zM187 187h1v1h-1zM187 190h1v1h-1zM187 197h1v1h-1zM187 200h1v1h-1zM187 204h1v1h-1zM187 207h1v1h-1zM187 214h1v1h-1zM187 217h1v1h-1zM187 220h1v1h-1zM187 223h1v1h-1zM187 230h1v1h-1zM187 233h1v1h-1zM187 237h1v1h-1zM187 240h1v1h-1zM187 247h1v1h-1zM187 250h1v1h-1zM187 253h1v1h-1zM187 256h1v1h-1zM187 263h1v1h-1zM187 266h1v1h-1zM187 270h1v1h-1zM187 273h1v1h-1zM187 280h1v1h-1zM187 283h1v1h-1zM187 286h1v1h-1zM187 289h1v1h-1zM212 164h1v1h-1zM212 167h1v1h-1zM212 171h1v1h-1zM212 174h1v1h-1zM212 181h1v1h-1zM212 184h1v1h-1zM212 187h1v1h-1zM212 190h1v1h-1zM212 197h1v1h-1zM212 200h1v1h-1zM212 204h1v1h-1zM212 207h1v1h-1zM212 214h1v1h-1zM212 217h1v1h-1zM212 220h1v1h-1zM212 223h1v1h-1zM212 230h1v1h-1zM212 233h1v1h-1zM212 237h1v1h-1zM212 240h1v1h-1zM212 247h1v1h-1zM212 250h1v1h-1zM212 253h1v1h-1zM212 256h1v1h-1zM212 263h1v1h-1zM212 266h1v1h-1zM212 270h1v1h-1zM212 273h1v1h-1zM212 280h1v1h-1zM212 283h1v1h-1zM212 286h1v1h-1zM212 289h1v1h-1zM237 164h1v1h-1zM237 167h1v1h-1zM237 171h1v1h-1zM237 174h1v1h-1zM237 181h1v1h-1zM237 184h1v1h-1zM237 187h1v1h-1zM237 190h1v1h-1zM237 197h1v1h-1zM237 200h1v1h-1zM237 204h1v1h-1zM237 207h1v1h-1zM237 214h1v1h-1zM237 217h1v1h-1zM237 220h1v1h-1zM237 223h1v1h-1zM237 230h1v1h-1zM237 233h1v1h-1zM237 237h1v1h-1zM237 240h1v1h-1zM237 247h1v1h-1zM237 250h1v1h-1zM237 253h1v1h-1zM237 256h1v1h-1zM237 263h1v1h-1zM237 266h1v1h-1zM237 270h1v1h-1zM237 273h1v1h-1zM237 280h1v1h-1zM237 283h1v1h-1zM237 286h1v1h-1zM237 289h1v1h-1zM20 177h1v1h-1zM25 177h1v1h-1zM30 177h1v1h-1zM35 177h1v1h-1zM40 177h1v1h-1zM45 177h1v1h-1zM49 177h1v1h-1zM54 177h1v1h-1zM59 177h1v1h-1zM64 177h1v1h-1zM69 177h1v1h-1zM74 177h1v1h-1zM79 177h1v1h-1zM84 177h1v1h-1zM89 177h1v1h-1zM94 177h1v1h-1zM99 177h1v1h-1zM104 177h1v1h-1zM109 177h1v1h-1zM114 177h1v1h-1zM118 177h1v1h-1zM123 177h1v1h-1zM128 177h1v1h-1zM133 177h1v1h-1zM138 177h1v1h-1zM143 177h1v1h-1zM148 177h1v1h-1zM153 177h1v1h-1zM158 177h1v1h-1zM163 177h1v1h-1zM168 177h1v1h-1zM173 177h1v1h-1zM178 177h1v1h-1zM182 177h1v1h-1zM187 177h1v1h-1zM192 177h1v1h-1zM197 177h1v1h-1zM202 177h1v1h-1zM207 177h1v1h-1zM212 177h1v1h-1zM217 177h1v1h-1zM222 177h1v1h-1zM227 177h1v1h-1zM232 177h1v1h-1zM237 177h1v1h-1zM242 177h1v1h-1zM247 177h1v1h-1zM251 177h1v1h-1zM256 177h1v1h-1zM20 194h1v1h-1zM25 194h1v1h-1zM30 194h1v1h-1zM35 194h1v1h-1zM40 194h1v1h-1zM45 194h1v1h-1zM49 194h1v1h-1zM54 194h1v1h-1zM59 194h1v1h-1zM64 194h1v1h-1zM69 194h1v1h-1zM74 194h1v1h-1zM79 194h1v1h-1zM84 194h1v1h-1zM89 194h1v1h-1zM94 194h1v1h-1zM99 194h1v1h-1zM104 194h1v1h-1zM109 194h1v1h-1zM114 194h1v1h-1zM118 194h1v1h-1zM123 194h1v1h-1zM128 194h1v1h-1zM133 194h1v1h-1zM138 194h1v1h-1zM143 194h1v1h-1zM148 194h1v1h-1zM153 194h1v1h-1zM158 194h1v1h-1zM163 194h1v1h-1zM168 194h1v1h-1zM173 194h1v1h-1zM178 194h1v1h-1zM182 194h1v1h-1zM187 194h1v1h-1zM192 194h1v1h-1zM197 194h1v1h-1zM202 194h1v1h-1zM207 194h1v1h-1zM212 194h1v1h-1zM217 194h1v1h-1zM222 194h1v1h-1zM227 194h1v1h-1zM232 194h1v1h-1zM237 194h1v1h-1zM242 194h1v1h-1zM247 194h1v1h-1zM251 194h1v1h-1zM256 194h1v1h-1zM20 210h1v1h-1zM25 210h1v1h-1zM30 210h1v1h-1zM35 210h1v1h-1zM40 210h1v1h-1zM45 210h1v1h-1zM49 210h1v1h-1zM54 210h1v1h-1zM59 210h1v1h-1zM64 210h1v1h-1zM69 210h1v1h-1zM74 210h1v1h-1zM79 210h1v1h-1zM84 210h1v1h-1zM89 210h1v1h-1zM94 210h1v1h-1zM99 210h1v1h-1zM104 210h1v1h-1zM109 210h1v1h-1zM114 210h1v1h-1zM118 210h1v1h-1zM123 210h1v1h-1zM128 210h1v1h-1zM133 210h1v1h-1zM138 210h1v1h-1zM143 210h1v1h-1zM148 210h1v1h-1zM153 210h1v1h-1zM158 210h1v1h-1zM163 210h1v1h-1zM168 210h1v1h-1zM173 210h1v1h-1zM178 210h1v1h-1zM182 210h1v1h-1zM187 210h1v1h-1zM192 210h1v1h-1zM197 210h1v1h-1zM202 210h1v1h-1zM207 210h1v1h-1zM212 210h1v1h-1zM217 210h1v1h-1zM222 210h1v1h-1zM227 210h1v1h-1zM232 210h1v1h-1zM237 210h1v1h-1zM242 210h1v1h-1zM247 210h1v1h-1zM251 210h1v1h-1zM256 210h1v1h-1zM20 243h1v1h-1zM25 243h1v1h-1zM30 243h1v1h-1zM35 243h1v1h-1zM40 243h1v1h-1zM45 243h1v1h-1zM49 243h1v1h-1zM54 243h1v1h-1zM59 243h1v1h-1zM64 243h1v1h-1zM69 243h1v1h-1zM74 243h1v1h-1zM79 243h1v1h-1zM84 243h1v1h-1zM89 243h1v1h-1zM94 243h1v1h-1zM99 243h1v1h-1zM104 243h1v1h-1zM109 243h1v1h-1zM114 243h1v1h-1zM118 243h1v1h-1zM123 243h1v1h-1zM128 243h1v1h-1zM133 243h1v1h-1zM138 243h1v1h-1zM143 243h1v1h-1zM148 243h1v1h-1zM153 243h1v1h-1zM158 243h1v1h-1zM163 243h1v1h-1zM168 243h1v1h-1zM173 243h1v1h-1zM178 243h1v1h-1zM182 243h1v1h-1zM187 243h1v1h-1zM192 243h1v1h-1zM197 243h1v1h-1zM202 243h1v1h-1zM207 243h1v1h-1zM212 243h1v1h-1zM217 243h1v1h-1zM222 243h1v1h-1zM227 243h1v1h-1zM232 243h1v1h-1zM237 243h1v1h-1zM242 243h1v1h-1zM247 243h1v1h-1zM251 243h1v1h-1zM256 243h1v1h-1zM20 260h1v1h-1zM25 260h1v1h-1zM30 260h1v1h-1zM35 260h1v1h-1zM40 260h1v1h-1zM45 260h1v1h-1zM49 260h1v1h-1zM54 260h1v1h-1zM59 260h1v1h-1zM64 260h1v1h-1zM69 260h1v1h-1zM74 260h1v1h-1zM79 260h1v1h-1zM84 260h1v1h-1zM89 260h1v1h-1zM94 260h1v1h-1zM99 260h1v1h-1zM104 260h1v1h-1zM109 260h1v1h-1zM114 260h1v1h-1zM118 260h1v1h-1zM123 260h1v1h-1zM128 260h1v1h-1zM133 260h1v1h-1zM138 260h1v1h-1zM143 260h1v1h-1zM148 260h1v1h-1zM153 260h1v1h-1zM158 260h1v1h-1zM163 260h1v1h-1zM168 260h1v1h-1zM173 260h1v1h-1zM178 260h1v1h-1zM182 260h1v1h-1zM187 260h1v1h-1zM192 260h1v1h-1zM197 260h1v1h-1zM202 260h1v1h-1zM207 260h1v1h-1zM212 260h1v1h-1zM217 260h1v1h-1zM222 260h1v1h-1zM227 260h1v1h-1zM232 260h1v1h-1zM237 260h1v1h-1zM242 260h1v1h-1zM247 260h1v1h-1zM251 260h1v1h-1zM256 260h1v1h-1zM20 276h1v1h-1zM25 276h1v1h-1zM30 276h1v1h-1zM35 276h1v1h-1zM40 276h1v1h-1zM45 276h1v1h-1zM49 276h1v1h-1zM54 276h1v1h-1zM59 276h1v1h-1zM64 276h1v1h-1zM69 276h1v1h-1zM74 276h1v1h-1zM79 276h1v1h-1zM84 276h1v1h-1zM89 276h1v1h-1zM94 276h1v1h-1zM99 276h1v1h-1zM104 276h1v1h-1zM109 276h1v1h-1zM114 276h1v1h-1zM118 276h1v1h-1zM123 276h1v1h-1zM128 276h1v1h-1zM133 276h1v1h-1zM138 276h1v1h-1zM143 276h1v1h-1zM148 276h1v1h-1zM153 276h1v1h-1zM158 276h1v1h-1zM163 276h1v1h-1zM168 276h1v1h-1zM173 276h1v1h-1zM178 276h1v1h-1zM182 276h1v1h-1zM187 276h1v1h-1zM192 276h1v1h-1zM197 276h1v1h-1zM202 276h1v1h-1zM207 276h1v1h-1zM212 276h1v1h-1zM217 276h1v1h-1zM222 276h1v1h-1zM227 276h1v1h-1zM232 276h1v1h-1zM237 276h1v1h-1zM242 276h1v1h-1zM247 276h1v1h-1zM251 276h1v1h-1zM256 276h1v1h-1z" fill="#e0e0e0"/>
<line x1="15.5" y1="227.4" x2="261.8" y2="227.4" stroke="#999999" stroke-width="1"/>
<line x1="138.65" y1="161.3" x2="138.65" y2="293.2" stroke="#999999" stroke-width="0.9"/>
<path d="M20.43 226.3v2.2M20.43 161.3v1.3M20.43 293.2v-1.3M25.35 226.3v2.2M25.35 161.3v1.3M25.35 293.2v-1.3M30.28 226.3v2.2M30.28 161.3v1.3M30.28 293.2v-1.3M35.2 226.3v2.2M35.2 161.3v1.3M35.2 293.2v-1.3M40.13 226.3v2.2M40.13 161.3v1.3M40.13 293.2v-1.3M45.06 226.3v2.2M45.06 161.3v1.3M45.06 293.2v-1.3M49.98 226.3v2.2M49.98 161.3v1.3M49.98 293.2v-1.3M54.91 226.3v2.2M54.91 161.3v1.3M54.91 293.2v-1.3M59.83 226.3v2.2M59.83 161.3v1.3M59.83 293.2v-1.3M64.76 226.3v2.2M64.76 161.3v1.3M64.76 293.2v-1.3M69.69 226.3v2.2M69.69 161.3v1.3M69.69 293.2v-1.3M74.61 226.3v2.2M74.61 161.3v1.3M74.61 293.2v-1.3M79.54 226.3v2.2M79.54 161.3v1.3M79.54 293.2v-1.3M84.46 226.3v2.2M84.46 161.3v1.3M84.46 293.2v-1.3M89.39 226.3v2.2M89.39 161.3v1.3M89.39 293.2v-1.3M94.32 226.3v2.2M94.32 161.3v1.3M94.32 293.2v-1.3M99.24 226.3v2.2M99.24 161.3v1.3M99.24 293.2v-1.3M104.17 226.3v2.2M104.17 161.3v1.3M104.17 293.2v-1.3M109.09 226.3v2.2M109.09 161.3v1.3M109.09 293.2v-1.3M114.02 226.3v2.2M114.02 161.3v1.3M114.02 293.2v-1.3M118.95 226.3v2.2M118.95 161.3v1.3M118.95 293.2v-1.3M123.87 226.3v2.2M123.87 161.3v1.3M123.87 293.2v-1.3M128.8 226.3v2.2M128.8 161.3v1.3M128.8 293.2v-1.3M133.72 226.3v2.2M133.72 161.3v1.3M133.72 293.2v-1.3M138.65 226.3v2.2M138.65 161.3v1.3M138.65 293.2v-1.3M143.58 226.3v2.2M143.58 161.3v1.3M143.58 293.2v-1.3M148.5 226.3v2.2M148.5 161.3v1.3M148.5 293.2v-1.3M153.43 226.3v2.2M153.43 161.3v1.3M153.43 293.2v-1.3M158.35 226.3v2.2M158.35 161.3v1.3M158.35 293.2v-1.3M163.28 226.3v2.2M163.28 161.3v1.3M163.28 293.2v-1.3M168.21 226.3v2.2M168.21 161.3v1.3M168.21 293.2v-1.3M173.13 226.3v2.2M173.13 161.3v1.3M173.13 293.2v-1.3M178.06 226.3v2.2M178.06 161.3v1.3M178.06 293.2v-1.3M182.98 226.3v2.2M182.98 161.3v1.3M182.98 293.2v-1.3M187.91 226.3v2.2M187.91 161.3v1.3M187.91 293.2v-1.3M192.84 226.3v2.2M192.84 161.3v1.3M192.84 293.2v-1.3M197.76 226.3v2.2M197.76 161.3v1.3M197.76 293.2v-1.3M202.69 226.3v2.2M202.69 161.3v1.3M202.69 293.2v-1.3M207.61 226.3v2.2M207.61 161.3v1.3M207.61 293.2v-1.3M212.54 226.3v2.2M212.54 161.3v1.3M212.54 293.2v-1.3M217.47 226.3v2.2M217.47 161.3v1.3M217.47 293.2v-1.3M222.39 226.3v2.2M222.39 161.3v1.3M222.39 293.2v-1.3M227.32 226.3v2.2M227.32 161.3v1.3M227.32 293.2v-1.3M232.24 226.3v2.2M232.24 161.3v1.3M232.24 293.2v-1.3M237.17 226.3v2.2M237.17 161.3v1.3M237.17 293.2v-1.3M242.1 226.3v2.2M242.1 161.3v1.3M242.1 293.2v-1.3M247.02 226.3v2.2M247.02 161.3v1.3M247.02 293.2v-1.3M251.95 226.3v2.2M251.95 161.3v1.3M251.95 293.2v-1.3M256.87 226.3v2.2M256.87 161.3v1.3M256.87 293.2v-1.3M137.55 164.6h2.2M15.5 164.6h1.3M261.8 164.6h-1.3M137.55 167.9h2.2M15.5 167.9h1.3M261.8 167.9h-1.3M137.55 171.19h2.2M15.5 171.19h1.3M261.8 171.19h-1.3M137.55 174.49h2.2M15.5 174.49h1.3M261.8 174.49h-1.3M137.55 177.79h2.2M15.5 177.79h1.3M261.8 177.79h-1.3M137.55 181.09h2.2M15.5 181.09h1.3M261.8 181.09h-1.3M137.55 184.38h2.2M15.5 184.38h1.3M261.8 184.38h-1.3M137.55 187.68h2.2M15.5 187.68h1.3M261.8 187.68h-1.3M137.55 190.98h2.2M15.5 190.98h1.3M261.8 190.98h-1.3M137.55 194.28h2.2M15.5 194.28h1.3M261.8 194.28h-1.3M137.55 197.57h2.2M15.5 197.57h1.3M261.8 197.57h-1.3M137.55 200.87h2.2M15.5 200.87h1.3M261.8 200.87h-1.3M137.55 204.17h2.2M15.5 204.17h1.3M261.8 204.17h-1.3M137.55 207.47h2.2M15.5 207.47h1.3M261.8 207.47h-1.3M137.55 210.76h2.2M15.5 210.76h1.3M261.8 210.76h-1.3M137.55 214.06h2.2M15.5 214.06h1.3M261.8 214.06h-1.3M137.55 217.36h2.2M15.5 217.36h1.3M261.8 217.36h-1.3M137.55 220.66h2.2M15.5 220.66h1.3M261.8 220.66h-1.3M137.55 223.95h2.2M15.5 223.95h1.3M261.8 223.95h-1.3M137.55 227.25h2.2M15.5 227.25h1.3M261.8 227.25h-1.3M137.55 230.55h2.2M15.5 230.55h1.3M261.8 230.55h-1.3M137.55 233.84h2.2M15.5 233.84h1.3M261.8 233.84h-1.3M137.55 237.14h2.2M15.5 237.14h1.3M261.8 237.14h-1.3M137.55 240.44h2.2M15.5 240.44h1.3M261.8 240.44h-1.3M137.55 243.74h2.2M15.5 243.74h1.3M261.8 243.74h-1.3M137.55 247.03h2.2M15.5 247.03h1.3M261.8 247.03h-1.3M137.55 250.33h2.2M15.5 250.33h1.3M261.8 250.33h-1.3M137.55 253.63h2.2M15.5 253.63h1.3M261.8 253.63h-1.3M137.55 256.93h2.2M15.5 256.93h1.3M261.8 256.93h-1.3M137.55 260.23h2.2M15.5 260.23h1.3M261.8 260.23h-1.3M137.55 263.52h2.2M15.5 263.52h1.3M261.8 263.52h-1.3M137.55 266.82h2.2M15.5 266.82h1.3M261.8 266.82h-1.3M137.55 270.12h2.2M15.5 270.12h1.3M261.8 270.12h-1.3M137.55 273.41h2.2M15.5 273.41h1.3M261.8 273.41h-1.3M137.55 276.71h2.2M15.5 276.71h1.3M261.8 276.71h-1.3M137.55 280.01h2.2M15.5 280.01h1.3M261.8 280.01h-1.3M137.55 283.31h2.2M15.5 283.31h1.3M261.8 283.31h-1.3M137.55 286.61h2.2M15.5 286.61h1.3M261.8 286.61h-1.3M137.55 289.9h2.2M15.5 289.9h1.3M261.8 289.9h-1.3" stroke="#777777" stroke-width="0.8" fill="none"/>
<rect x="15.5" y="161.3" width="246.3" height="131.9" fill="none" stroke="#9c9c9c" stroke-width="1.1"/>
<path d="M314 166h1v1h-1zM314 169h1v1h-1zM314 172h1v1h-1zM314 175h1v1h-1zM314 182h1v1h-1zM314 185h1v1h-1zM314 189h1v1h-1zM314 192h1v1h-1zM314 199h1v1h-1zM314 202h1v1h-1zM314 205h1v1h-1zM314 209h1v1h-1zM314 215h1v1h-1zM314 218h1v1h-1zM314 222h1v1h-1zM314 225h1v1h-1zM314 232h1v1h-1zM314 235h1v1h-1zM314 238h1v1h-1zM314 242h1v1h-1zM314 248h1v1h-1zM314 252h1v1h-1zM314 255h1v1h-1zM314 258h1v1h-1zM314 265h1v1h-1zM314 268h1v1h-1zM314 271h1v1h-1zM314 275h1v1h-1zM314 281h1v1h-1zM314 285h1v1h-1zM314 288h1v1h-1zM314 291h1v1h-1zM339 166h1v1h-1zM339 169h1v1h-1zM339 172h1v1h-1zM339 175h1v1h-1zM339 182h1v1h-1zM339 185h1v1h-1zM339 189h1v1h-1zM339 192h1v1h-1zM339 199h1v1h-1zM339 202h1v1h-1zM339 205h1v1h-1zM339 209h1v1h-1zM339 215h1v1h-1zM339 218h1v1h-1zM339 222h1v1h-1zM339 225h1v1h-1zM339 232h1v1h-1zM339 235h1v1h-1zM339 238h1v1h-1zM339 242h1v1h-1zM339 248h1v1h-1zM339 252h1v1h-1zM339 255h1v1h-1zM339 258h1v1h-1zM339 265h1v1h-1zM339 268h1v1h-1zM339 271h1v1h-1zM339 275h1v1h-1zM339 281h1v1h-1zM339 285h1v1h-1zM339 288h1v1h-1zM339 291h1v1h-1zM364 166h1v1h-1zM364 169h1v1h-1zM364 172h1v1h-1zM364 175h1v1h-1zM364 182h1v1h-1zM364 185h1v1h-1zM364 189h1v1h-1zM364 192h1v1h-1zM364 199h1v1h-1zM364 202h1v1h-1zM364 205h1v1h-1zM364 209h1v1h-1zM364 215h1v1h-1zM364 218h1v1h-1zM364 222h1v1h-1zM364 225h1v1h-1zM364 232h1v1h-1zM364 235h1v1h-1zM364 238h1v1h-1zM364 242h1v1h-1zM364 248h1v1h-1zM364 252h1v1h-1zM364 255h1v1h-1zM364 258h1v1h-1zM364 265h1v1h-1zM364 268h1v1h-1zM364 271h1v1h-1zM364 275h1v1h-1zM364 281h1v1h-1zM364 285h1v1h-1zM364 288h1v1h-1zM364 291h1v1h-1zM389 166h1v1h-1zM389 169h1v1h-1zM389 172h1v1h-1zM389 175h1v1h-1zM389 182h1v1h-1zM389 185h1v1h-1zM389 189h1v1h-1zM389 192h1v1h-1zM389 199h1v1h-1zM389 202h1v1h-1zM389 205h1v1h-1zM389 209h1v1h-1zM389 215h1v1h-1zM389 218h1v1h-1zM389 222h1v1h-1zM389 225h1v1h-1zM389 232h1v1h-1zM389 235h1v1h-1zM389 238h1v1h-1zM389 242h1v1h-1zM389 248h1v1h-1zM389 252h1v1h-1zM389 255h1v1h-1zM389 258h1v1h-1zM389 265h1v1h-1zM389 268h1v1h-1zM389 271h1v1h-1zM389 275h1v1h-1zM389 281h1v1h-1zM389 285h1v1h-1zM389 288h1v1h-1zM389 291h1v1h-1zM439 166h1v1h-1zM439 169h1v1h-1zM439 172h1v1h-1zM439 175h1v1h-1zM439 182h1v1h-1zM439 185h1v1h-1zM439 189h1v1h-1zM439 192h1v1h-1zM439 199h1v1h-1zM439 202h1v1h-1zM439 205h1v1h-1zM439 209h1v1h-1zM439 215h1v1h-1zM439 218h1v1h-1zM439 222h1v1h-1zM439 225h1v1h-1zM439 232h1v1h-1zM439 235h1v1h-1zM439 238h1v1h-1zM439 242h1v1h-1zM439 248h1v1h-1zM439 252h1v1h-1zM439 255h1v1h-1zM439 258h1v1h-1zM439 265h1v1h-1zM439 268h1v1h-1zM439 271h1v1h-1zM439 275h1v1h-1zM439 281h1v1h-1zM439 285h1v1h-1zM439 288h1v1h-1zM439 291h1v1h-1zM464 166h1v1h-1zM464 169h1v1h-1zM464 172h1v1h-1zM464 175h1v1h-1zM464 182h1v1h-1zM464 185h1v1h-1zM464 189h1v1h-1zM464 192h1v1h-1zM464 199h1v1h-1zM464 202h1v1h-1zM464 205h1v1h-1zM464 209h1v1h-1zM464 215h1v1h-1zM464 218h1v1h-1zM464 222h1v1h-1zM464 225h1v1h-1zM464 232h1v1h-1zM464 235h1v1h-1zM464 238h1v1h-1zM464 242h1v1h-1zM464 248h1v1h-1zM464 252h1v1h-1zM464 255h1v1h-1zM464 258h1v1h-1zM464 265h1v1h-1zM464 268h1v1h-1zM464 271h1v1h-1zM464 275h1v1h-1zM464 281h1v1h-1zM464 285h1v1h-1zM464 288h1v1h-1zM464 291h1v1h-1zM490 166h1v1h-1zM490 169h1v1h-1zM490 172h1v1h-1zM490 175h1v1h-1zM490 182h1v1h-1zM490 185h1v1h-1zM490 189h1v1h-1zM490 192h1v1h-1zM490 199h1v1h-1zM490 202h1v1h-1zM490 205h1v1h-1zM490 209h1v1h-1zM490 215h1v1h-1zM490 218h1v1h-1zM490 222h1v1h-1zM490 225h1v1h-1zM490 232h1v1h-1zM490 235h1v1h-1zM490 238h1v1h-1zM490 242h1v1h-1zM490 248h1v1h-1zM490 252h1v1h-1zM490 255h1v1h-1zM490 258h1v1h-1zM490 265h1v1h-1zM490 268h1v1h-1zM490 271h1v1h-1zM490 275h1v1h-1zM490 281h1v1h-1zM490 285h1v1h-1zM490 288h1v1h-1zM490 291h1v1h-1zM515 166h1v1h-1zM515 169h1v1h-1zM515 172h1v1h-1zM515 175h1v1h-1zM515 182h1v1h-1zM515 185h1v1h-1zM515 189h1v1h-1zM515 192h1v1h-1zM515 199h1v1h-1zM515 202h1v1h-1zM515 205h1v1h-1zM515 209h1v1h-1zM515 215h1v1h-1zM515 218h1v1h-1zM515 222h1v1h-1zM515 225h1v1h-1zM515 232h1v1h-1zM515 235h1v1h-1zM515 238h1v1h-1zM515 242h1v1h-1zM515 248h1v1h-1zM515 252h1v1h-1zM515 255h1v1h-1zM515 258h1v1h-1zM515 265h1v1h-1zM515 268h1v1h-1zM515 271h1v1h-1zM515 275h1v1h-1zM515 281h1v1h-1zM515 285h1v1h-1zM515 288h1v1h-1zM515 291h1v1h-1zM294 179h1v1h-1zM299 179h1v1h-1zM304 179h1v1h-1zM309 179h1v1h-1zM314 179h1v1h-1zM319 179h1v1h-1zM324 179h1v1h-1zM329 179h1v1h-1zM334 179h1v1h-1zM339 179h1v1h-1zM344 179h1v1h-1zM349 179h1v1h-1zM354 179h1v1h-1zM359 179h1v1h-1zM364 179h1v1h-1zM369 179h1v1h-1zM374 179h1v1h-1zM379 179h1v1h-1zM384 179h1v1h-1zM389 179h1v1h-1zM394 179h1v1h-1zM399 179h1v1h-1zM404 179h1v1h-1zM409 179h1v1h-1zM414 179h1v1h-1zM419 179h1v1h-1zM424 179h1v1h-1zM429 179h1v1h-1zM434 179h1v1h-1zM439 179h1v1h-1zM444 179h1v1h-1zM449 179h1v1h-1zM454 179h1v1h-1zM459 179h1v1h-1zM464 179h1v1h-1zM469 179h1v1h-1zM474 179h1v1h-1zM479 179h1v1h-1zM485 179h1v1h-1zM490 179h1v1h-1zM495 179h1v1h-1zM500 179h1v1h-1zM505 179h1v1h-1zM510 179h1v1h-1zM515 179h1v1h-1zM520 179h1v1h-1zM525 179h1v1h-1zM530 179h1v1h-1zM535 179h1v1h-1zM294 195h1v1h-1zM299 195h1v1h-1zM304 195h1v1h-1zM309 195h1v1h-1zM314 195h1v1h-1zM319 195h1v1h-1zM324 195h1v1h-1zM329 195h1v1h-1zM334 195h1v1h-1zM339 195h1v1h-1zM344 195h1v1h-1zM349 195h1v1h-1zM354 195h1v1h-1zM359 195h1v1h-1zM364 195h1v1h-1zM369 195h1v1h-1zM374 195h1v1h-1zM379 195h1v1h-1zM384 195h1v1h-1zM389 195h1v1h-1zM394 195h1v1h-1zM399 195h1v1h-1zM404 195h1v1h-1zM409 195h1v1h-1zM414 195h1v1h-1zM419 195h1v1h-1zM424 195h1v1h-1zM429 195h1v1h-1zM434 195h1v1h-1zM439 195h1v1h-1zM444 195h1v1h-1zM449 195h1v1h-1zM454 195h1v1h-1zM459 195h1v1h-1zM464 195h1v1h-1zM469 195h1v1h-1zM474 195h1v1h-1zM479 195h1v1h-1zM485 195h1v1h-1zM490 195h1v1h-1zM495 195h1v1h-1zM500 195h1v1h-1zM505 195h1v1h-1zM510 195h1v1h-1zM515 195h1v1h-1zM520 195h1v1h-1zM525 195h1v1h-1zM530 195h1v1h-1zM535 195h1v1h-1zM294 212h1v1h-1zM299 212h1v1h-1zM304 212h1v1h-1zM309 212h1v1h-1zM314 212h1v1h-1zM319 212h1v1h-1zM324 212h1v1h-1zM329 212h1v1h-1zM334 212h1v1h-1zM339 212h1v1h-1zM344 212h1v1h-1zM349 212h1v1h-1zM354 212h1v1h-1zM359 212h1v1h-1zM364 212h1v1h-1zM369 212h1v1h-1zM374 212h1v1h-1zM379 212h1v1h-1zM384 212h1v1h-1zM389 212h1v1h-1zM394 212h1v1h-1zM399 212h1v1h-1zM404 212h1v1h-1zM409 212h1v1h-1zM414 212h1v1h-1zM419 212h1v1h-1zM424 212h1v1h-1zM429 212h1v1h-1zM434 212h1v1h-1zM439 212h1v1h-1zM444 212h1v1h-1zM449 212h1v1h-1zM454 212h1v1h-1zM459 212h1v1h-1zM464 212h1v1h-1zM469 212h1v1h-1zM474 212h1v1h-1zM479 212h1v1h-1zM485 212h1v1h-1zM490 212h1v1h-1zM495 212h1v1h-1zM500 212h1v1h-1zM505 212h1v1h-1zM510 212h1v1h-1zM515 212h1v1h-1zM520 212h1v1h-1zM525 212h1v1h-1zM530 212h1v1h-1zM535 212h1v1h-1zM294 245h1v1h-1zM299 245h1v1h-1zM304 245h1v1h-1zM309 245h1v1h-1zM314 245h1v1h-1zM319 245h1v1h-1zM324 245h1v1h-1zM329 245h1v1h-1zM334 245h1v1h-1zM339 245h1v1h-1zM344 245h1v1h-1zM349 245h1v1h-1zM354 245h1v1h-1zM359 245h1v1h-1zM364 245h1v1h-1zM369 245h1v1h-1zM374 245h1v1h-1zM379 245h1v1h-1zM384 245h1v1h-1zM389 245h1v1h-1zM394 245h1v1h-1zM399 245h1v1h-1zM404 245h1v1h-1zM409 245h1v1h-1zM414 245h1v1h-1zM419 245h1v1h-1zM424 245h1v1h-1zM429 245h1v1h-1zM434 245h1v1h-1zM439 245h1v1h-1zM444 245h1v1h-1zM449 245h1v1h-1zM454 245h1v1h-1zM459 245h1v1h-1zM464 245h1v1h-1zM469 245h1v1h-1zM474 245h1v1h-1zM479 245h1v1h-1zM485 245h1v1h-1zM490 245h1v1h-1zM495 245h1v1h-1zM500 245h1v1h-1zM505 245h1v1h-1zM510 245h1v1h-1zM515 245h1v1h-1zM520 245h1v1h-1zM525 245h1v1h-1zM530 245h1v1h-1zM535 245h1v1h-1zM294 261h1v1h-1zM299 261h1v1h-1zM304 261h1v1h-1zM309 261h1v1h-1zM314 261h1v1h-1zM319 261h1v1h-1zM324 261h1v1h-1zM329 261h1v1h-1zM334 261h1v1h-1zM339 261h1v1h-1zM344 261h1v1h-1zM349 261h1v1h-1zM354 261h1v1h-1zM359 261h1v1h-1zM364 261h1v1h-1zM369 261h1v1h-1zM374 261h1v1h-1zM379 261h1v1h-1zM384 261h1v1h-1zM389 261h1v1h-1zM394 261h1v1h-1zM399 261h1v1h-1zM404 261h1v1h-1zM409 261h1v1h-1zM414 261h1v1h-1zM419 261h1v1h-1zM424 261h1v1h-1zM429 261h1v1h-1zM434 261h1v1h-1zM439 261h1v1h-1zM444 261h1v1h-1zM449 261h1v1h-1zM454 261h1v1h-1zM459 261h1v1h-1zM464 261h1v1h-1zM469 261h1v1h-1zM474 261h1v1h-1zM479 261h1v1h-1zM485 261h1v1h-1zM490 261h1v1h-1zM495 261h1v1h-1zM500 261h1v1h-1zM505 261h1v1h-1zM510 261h1v1h-1zM515 261h1v1h-1zM520 261h1v1h-1zM525 261h1v1h-1zM530 261h1v1h-1zM535 261h1v1h-1zM294 278h1v1h-1zM299 278h1v1h-1zM304 278h1v1h-1zM309 278h1v1h-1zM314 278h1v1h-1zM319 278h1v1h-1zM324 278h1v1h-1zM329 278h1v1h-1zM334 278h1v1h-1zM339 278h1v1h-1zM344 278h1v1h-1zM349 278h1v1h-1zM354 278h1v1h-1zM359 278h1v1h-1zM364 278h1v1h-1zM369 278h1v1h-1zM374 278h1v1h-1zM379 278h1v1h-1zM384 278h1v1h-1zM389 278h1v1h-1zM394 278h1v1h-1zM399 278h1v1h-1zM404 278h1v1h-1zM409 278h1v1h-1zM414 278h1v1h-1zM419 278h1v1h-1zM424 278h1v1h-1zM429 278h1v1h-1zM434 278h1v1h-1zM439 278h1v1h-1zM444 278h1v1h-1zM449 278h1v1h-1zM454 278h1v1h-1zM459 278h1v1h-1zM464 278h1v1h-1zM469 278h1v1h-1zM474 278h1v1h-1zM479 278h1v1h-1zM485 278h1v1h-1zM490 278h1v1h-1zM495 278h1v1h-1zM500 278h1v1h-1zM505 278h1v1h-1zM510 278h1v1h-1zM515 278h1v1h-1zM520 278h1v1h-1zM525 278h1v1h-1zM530 278h1v1h-1zM535 278h1v1h-1z" fill="#e0e0e0"/>
<line x1="289" y1="229.5" x2="540.3" y2="229.5" stroke="#999999" stroke-width="1"/>
<line x1="414.7" y1="162.7" x2="414.7" y2="295" stroke="#999999" stroke-width="0.9"/>
<path d="M294.03 228.4v2.2M294.03 162.7v1.3M294.03 295v-1.3M299.05 228.4v2.2M299.05 162.7v1.3M299.05 295v-1.3M304.08 228.4v2.2M304.08 162.7v1.3M304.08 295v-1.3M309.1 228.4v2.2M309.1 162.7v1.3M309.1 295v-1.3M314.13 228.4v2.2M314.13 162.7v1.3M314.13 295v-1.3M319.16 228.4v2.2M319.16 162.7v1.3M319.16 295v-1.3M324.18 228.4v2.2M324.18 162.7v1.3M324.18 295v-1.3M329.21 228.4v2.2M329.21 162.7v1.3M329.21 295v-1.3M334.23 228.4v2.2M334.23 162.7v1.3M334.23 295v-1.3M339.26 228.4v2.2M339.26 162.7v1.3M339.26 295v-1.3M344.29 228.4v2.2M344.29 162.7v1.3M344.29 295v-1.3M349.31 228.4v2.2M349.31 162.7v1.3M349.31 295v-1.3M354.34 228.4v2.2M354.34 162.7v1.3M354.34 295v-1.3M359.36 228.4v2.2M359.36 162.7v1.3M359.36 295v-1.3M364.39 228.4v2.2M364.39 162.7v1.3M364.39 295v-1.3M369.42 228.4v2.2M369.42 162.7v1.3M369.42 295v-1.3M374.44 228.4v2.2M374.44 162.7v1.3M374.44 295v-1.3M379.47 228.4v2.2M379.47 162.7v1.3M379.47 295v-1.3M384.49 228.4v2.2M384.49 162.7v1.3M384.49 295v-1.3M389.52 228.4v2.2M389.52 162.7v1.3M389.52 295v-1.3M394.55 228.4v2.2M394.55 162.7v1.3M394.55 295v-1.3M399.57 228.4v2.2M399.57 162.7v1.3M399.57 295v-1.3M404.6 228.4v2.2M404.6 162.7v1.3M404.6 295v-1.3M409.62 228.4v2.2M409.62 162.7v1.3M409.62 295v-1.3M414.65 228.4v2.2M414.65 162.7v1.3M414.65 295v-1.3M419.68 228.4v2.2M419.68 162.7v1.3M419.68 295v-1.3M424.7 228.4v2.2M424.7 162.7v1.3M424.7 295v-1.3M429.73 228.4v2.2M429.73 162.7v1.3M429.73 295v-1.3M434.75 228.4v2.2M434.75 162.7v1.3M434.75 295v-1.3M439.78 228.4v2.2M439.78 162.7v1.3M439.78 295v-1.3M444.81 228.4v2.2M444.81 162.7v1.3M444.81 295v-1.3M449.83 228.4v2.2M449.83 162.7v1.3M449.83 295v-1.3M454.86 228.4v2.2M454.86 162.7v1.3M454.86 295v-1.3M459.88 228.4v2.2M459.88 162.7v1.3M459.88 295v-1.3M464.91 228.4v2.2M464.91 162.7v1.3M464.91 295v-1.3M469.94 228.4v2.2M469.94 162.7v1.3M469.94 295v-1.3M474.96 228.4v2.2M474.96 162.7v1.3M474.96 295v-1.3M479.99 228.4v2.2M479.99 162.7v1.3M479.99 295v-1.3M485.01 228.4v2.2M485.01 162.7v1.3M485.01 295v-1.3M490.04 228.4v2.2M490.04 162.7v1.3M490.04 295v-1.3M495.07 228.4v2.2M495.07 162.7v1.3M495.07 295v-1.3M500.09 228.4v2.2M500.09 162.7v1.3M500.09 295v-1.3M505.12 228.4v2.2M505.12 162.7v1.3M505.12 295v-1.3M510.14 228.4v2.2M510.14 162.7v1.3M510.14 295v-1.3M515.17 228.4v2.2M515.17 162.7v1.3M515.17 295v-1.3M520.2 228.4v2.2M520.2 162.7v1.3M520.2 295v-1.3M525.22 228.4v2.2M525.22 162.7v1.3M525.22 295v-1.3M530.25 228.4v2.2M530.25 162.7v1.3M530.25 295v-1.3M535.27 228.4v2.2M535.27 162.7v1.3M535.27 295v-1.3M413.6 166.01h2.2M289 166.01h1.3M540.3 166.01h-1.3M413.6 169.31h2.2M289 169.31h1.3M540.3 169.31h-1.3M413.6 172.62h2.2M289 172.62h1.3M540.3 172.62h-1.3M413.6 175.93h2.2M289 175.93h1.3M540.3 175.93h-1.3M413.6 179.24h2.2M289 179.24h1.3M540.3 179.24h-1.3M413.6 182.54h2.2M289 182.54h1.3M540.3 182.54h-1.3M413.6 185.85h2.2M289 185.85h1.3M540.3 185.85h-1.3M413.6 189.16h2.2M289 189.16h1.3M540.3 189.16h-1.3M413.6 192.47h2.2M289 192.47h1.3M540.3 192.47h-1.3M413.6 195.77h2.2M289 195.77h1.3M540.3 195.77h-1.3M413.6 199.08h2.2M289 199.08h1.3M540.3 199.08h-1.3M413.6 202.39h2.2M289 202.39h1.3M540.3 202.39h-1.3M413.6 205.7h2.2M289 205.7h1.3M540.3 205.7h-1.3M413.6 209h2.2M289 209h1.3M540.3 209h-1.3M413.6 212.31h2.2M289 212.31h1.3M540.3 212.31h-1.3M413.6 215.62h2.2M289 215.62h1.3M540.3 215.62h-1.3M413.6 218.93h2.2M289 218.93h1.3M540.3 218.93h-1.3M413.6 222.23h2.2M289 222.23h1.3M540.3 222.23h-1.3M413.6 225.54h2.2M289 225.54h1.3M540.3 225.54h-1.3M413.6 228.85h2.2M289 228.85h1.3M540.3 228.85h-1.3M413.6 232.16h2.2M289 232.16h1.3M540.3 232.16h-1.3M413.6 235.47h2.2M289 235.47h1.3M540.3 235.47h-1.3M413.6 238.77h2.2M289 238.77h1.3M540.3 238.77h-1.3M413.6 242.08h2.2M289 242.08h1.3M540.3 242.08h-1.3M413.6 245.39h2.2M289 245.39h1.3M540.3 245.39h-1.3M413.6 248.69h2.2M289 248.69h1.3M540.3 248.69h-1.3M413.6 252h2.2M289 252h1.3M540.3 252h-1.3M413.6 255.31h2.2M289 255.31h1.3M540.3 255.31h-1.3M413.6 258.62h2.2M289 258.62h1.3M540.3 258.62h-1.3M413.6 261.93h2.2M289 261.93h1.3M540.3 261.93h-1.3M413.6 265.23h2.2M289 265.23h1.3M540.3 265.23h-1.3M413.6 268.54h2.2M289 268.54h1.3M540.3 268.54h-1.3M413.6 271.85h2.2M289 271.85h1.3M540.3 271.85h-1.3M413.6 275.15h2.2M289 275.15h1.3M540.3 275.15h-1.3M413.6 278.46h2.2M289 278.46h1.3M540.3 278.46h-1.3M413.6 281.77h2.2M289 281.77h1.3M540.3 281.77h-1.3M413.6 285.08h2.2M289 285.08h1.3M540.3 285.08h-1.3M413.6 288.38h2.2M289 288.38h1.3M540.3 288.38h-1.3M413.6 291.69h2.2M289 291.69h1.3M540.3 291.69h-1.3" stroke="#777777" stroke-width="0.8" fill="none"/>
<rect x="289" y="162.7" width="251.3" height="132.3" fill="none" stroke="#9c9c9c" stroke-width="1.1"/>
<path d="M15.5 30.41 L16.33 30.79 L17.15 31.19 L17.98 31.58 L18.81 31.94 L19.63 32.26 L20.46 32.49 L21.29 32.65 L22.11 32.7 L22.94 32.65 L23.77 32.51 L24.59 32.28 L25.42 31.97 L26.25 31.61 L27.07 31.22 L27.9 30.82 L28.73 30.44 L29.55 30.1 L30.38 29.82 L31.21 29.62 L32.03 29.52 L32.86 29.51 L33.69 29.6 L34.51 29.79 L35.34 30.06 L36.17 30.39 L36.99 30.77 L37.82 31.17 L38.65 31.57 L39.47 31.93 L40.3 32.24 L41.13 32.49 L41.95 32.64 L42.78 32.7 L43.61 32.66 L44.43 32.52 L45.26 32.29 L46.09 31.99 L46.91 31.63 L47.74 31.24 L48.57 30.84 L49.39 30.45 L50.22 30.11 L51.05 29.83 L51.87 29.63 L52.7 29.52 L53.53 29.51 L54.35 29.6 L55.18 29.78 L56.01 30.05 L56.83 30.38 L57.66 30.76 L58.49 31.15 L59.31 31.55 L60.14 31.92 L60.97 32.23 L61.79 32.48 L62.62 32.64 L63.45 32.7 L64.27 32.66 L65.1 32.53 L65.93 32.3 L66.75 32 L67.58 31.64 L68.41 31.25 L69.23 30.85 L70.06 30.47 L70.89 30.12 L71.71 29.84 L72.54 29.63 L73.37 29.52 L74.19 29.51 L75.02 29.59 L75.85 29.77 L76.67 30.03 L77.5 30.36 L78.33 30.74 L79.15 31.14 L79.98 31.53 L80.81 31.9 L81.63 32.22 L82.46 32.47 L83.29 32.63 L84.11 32.7 L84.94 32.67 L85.77 32.53 L86.59 32.31 L87.42 32.01 L88.25 31.66 L89.07 31.27 L89.9 30.87 L90.73 30.48 L91.55 30.14 L92.38 29.85 L93.21 29.64 L94.03 29.52 L94.86 29.5 L95.69 29.59 L96.51 29.76 L97.34 30.02 L98.17 30.35 L98.99 30.72 L99.82 31.12 L100.65 31.52 L101.47 31.89 L102.3 32.21 L103.13 32.46 L103.95 32.63 L104.78 32.7 L105.61 32.67 L106.43 32.54 L107.26 32.32 L108.09 32.03 L108.91 31.68 L109.74 31.29 L110.57 30.89 L111.39 30.5 L112.22 30.15 L113.05 29.86 L113.87 29.65 L114.7 29.53 L115.53 29.5 L116.35 29.58 L117.18 29.75 L118.01 30.01 L118.83 30.34 L119.66 30.71 L120.49 31.11 L121.31 31.5 L122.14 31.87 L122.97 32.2 L123.79 32.45 L124.62 32.62 L125.45 32.7 L126.27 32.67 L127.1 32.55 L127.93 32.33 L128.75 32.04 L129.58 31.69 L130.41 31.3 L131.23 30.9 L132.06 30.51 L132.89 30.16 L133.71 29.87 L134.54 29.65 L135.37 29.53 L136.19 29.5 L137.02 29.58 L137.85 29.74 L138.67 30 L139.5 30.32 L140.33 30.69 L141.15 31.09 L141.98 31.49 L142.81 31.86 L143.63 32.19 L144.46 32.44 L145.29 32.62 L146.11 32.7 L146.94 32.67 L147.77 32.55 L148.59 32.34 L149.42 32.05 L150.25 31.71 L151.07 31.32 L151.9 30.92 L152.73 30.53 L153.55 30.18 L154.38 29.88 L155.21 29.66 L156.03 29.53 L156.86 29.5 L157.69 29.57 L158.51 29.74 L159.34 29.99 L160.17 30.31 L160.99 30.68 L161.82 31.07 L162.65 31.47 L163.47 31.85 L164.3 32.17 L165.13 32.43 L165.95 32.61 L166.78 32.69 L167.61 32.68 L168.43 32.56 L169.26 32.35 L170.09 32.07 L170.91 31.72 L171.74 31.33 L172.57 30.93 L173.39 30.54 L174.22 30.19 L175.05 29.89 L175.87 29.67 L176.7 29.54 L177.53 29.5 L178.35 29.57 L179.18 29.73 L180.01 29.98 L180.83 30.29 L181.66 30.66 L182.49 31.06 L183.31 31.46 L184.14 31.83 L184.97 32.16 L185.79 32.43 L186.62 32.61 L187.45 32.69 L188.27 32.68 L189.1 32.57 L189.93 32.36 L190.75 32.08 L191.58 31.74 L192.41 31.35 L193.23 30.95 L194.06 30.56 L194.89 30.2 L195.71 29.9 L196.54 29.68 L197.37 29.54 L198.19 29.5 L199.02 29.56 L199.85 29.72 L200.67 29.96 L201.5 30.28 L202.33 30.65 L203.15 31.04 L203.98 31.44 L204.81 31.82 L205.63 32.15 L206.46 32.42 L207.29 32.6 L208.11 32.69 L208.94 32.68 L209.77 32.57 L210.59 32.37 L211.42 32.09 L212.25 31.75 L213.07 31.37 L213.9 30.97 L214.73 30.57 L215.55 30.22 L216.38 29.91 L217.21 29.68 L218.03 29.54 L218.86 29.5 L219.69 29.56 L220.51 29.71 L221.34 29.95 L222.17 30.27 L222.99 30.63 L223.82 31.02 L224.65 31.42 L225.47 31.8 L226.3 32.14 L227.13 32.41 L227.95 32.6 L228.78 32.69 L229.61 32.68 L230.43 32.58 L231.26 32.38 L232.09 32.11 L232.91 31.76 L233.74 31.38 L234.57 30.98 L235.39 30.59 L236.22 30.23 L237.05 29.92 L237.87 29.69 L238.7 29.55 L239.53 29.5 L240.35 29.55 L241.18 29.7 L242.01 29.94 L242.83 30.25 L243.66 30.61 L244.49 31.01 L245.31 31.41 L246.14 31.79 L246.97 32.13 L247.79 32.4 L248.62 32.59 L249.45 32.69 L250.27 32.69 L251.1 32.59 L251.93 32.39 L252.75 32.12 L253.58 31.78 L254.41 31.4 L255.23 31 L256.06 30.61 L256.89 30.24 L257.71 29.93 L258.54 29.7 L259.37 29.55 L260.19 29.5 L261.02 29.55 L261.85 29.7 L262.67 29.93 L263.5 30.24" fill="none" stroke="#44e444" stroke-width="1.2" stroke-linejoin="round" stroke-linecap="round" />
<path d="M15.5 30.81 L16.33 31.19 L17.15 31.59 L17.98 31.98 L18.81 32.34 L19.63 32.66 L20.46 32.89 L21.29 33.05 L22.11 33.1 L22.94 33.05 L23.77 32.91 L24.59 32.68 L25.42 32.37 L26.25 32.01 L27.07 31.62 L27.9 31.22 L28.73 30.84 L29.55 30.5 L30.38 30.22 L31.21 30.02 L32.03 29.92 L32.86 29.91 L33.69 30 L34.51 30.19 L35.34 30.46 L36.17 30.79 L36.99 31.17 L37.82 31.57 L38.65 31.97 L39.47 32.33 L40.3 32.64 L41.13 32.89 L41.95 33.04 L42.78 33.1 L43.61 33.06 L44.43 32.92 L45.26 32.69 L46.09 32.39 L46.91 32.03 L47.74 31.64 L48.57 31.24 L49.39 30.85 L50.22 30.51 L51.05 30.23 L51.87 30.03 L52.7 29.92 L53.53 29.91 L54.35 30 L55.18 30.18 L56.01 30.45 L56.83 30.78 L57.66 31.16 L58.49 31.55 L59.31 31.95 L60.14 32.32 L60.97 32.63 L61.79 32.88 L62.62 33.04 L63.45 33.1 L64.27 33.06 L65.1 32.93 L65.93 32.7 L66.75 32.4 L67.58 32.04 L68.41 31.65 L69.23 31.25 L70.06 30.87 L70.89 30.52 L71.71 30.24 L72.54 30.03 L73.37 29.92 L74.19 29.91 L75.02 29.99 L75.85 30.17 L76.67 30.43 L77.5 30.76 L78.33 31.14 L79.15 31.54 L79.98 31.93 L80.81 32.3 L81.63 32.62 L82.46 32.87 L83.29 33.03 L84.11 33.1 L84.94 33.07 L85.77 32.93 L86.59 32.71 L87.42 32.41 L88.25 32.06 L89.07 31.67 L89.9 31.27 L90.73 30.88 L91.55 30.54 L92.38 30.25 L93.21 30.04 L94.03 29.92 L94.86 29.9 L95.69 29.99 L96.51 30.16 L97.34 30.42 L98.17 30.75 L98.99 31.12 L99.82 31.52 L100.65 31.92 L101.47 32.29 L102.3 32.61 L103.13 32.86 L103.95 33.03 L104.78 33.1 L105.61 33.07 L106.43 32.94 L107.26 32.72 L108.09 32.43 L108.91 32.08 L109.74 31.69 L110.57 31.29 L111.39 30.9 L112.22 30.55 L113.05 30.26 L113.87 30.05 L114.7 29.93 L115.53 29.9 L116.35 29.98 L117.18 30.15 L118.01 30.41 L118.83 30.74 L119.66 31.11 L120.49 31.51 L121.31 31.9 L122.14 32.27 L122.97 32.6 L123.79 32.85 L124.62 33.02 L125.45 33.1 L126.27 33.07 L127.1 32.95 L127.93 32.73 L128.75 32.44 L129.58 32.09 L130.41 31.7 L131.23 31.3 L132.06 30.91 L132.89 30.56 L133.71 30.27 L134.54 30.05 L135.37 29.93 L136.19 29.9 L137.02 29.98 L137.85 30.14 L138.67 30.4 L139.5 30.72 L140.33 31.09 L141.15 31.49 L141.98 31.89 L142.81 32.26 L143.63 32.59 L144.46 32.84 L145.29 33.02 L146.11 33.1 L146.94 33.07 L147.77 32.95 L148.59 32.74 L149.42 32.45 L150.25 32.11 L151.07 31.72 L151.9 31.32 L152.73 30.93 L153.55 30.58 L154.38 30.28 L155.21 30.06 L156.03 29.93 L156.86 29.9 L157.69 29.97 L158.51 30.14 L159.34 30.39 L160.17 30.71 L160.99 31.08 L161.82 31.47 L162.65 31.87 L163.47 32.25 L164.3 32.57 L165.13 32.83 L165.95 33.01 L166.78 33.09 L167.61 33.08 L168.43 32.96 L169.26 32.75 L170.09 32.47 L170.91 32.12 L171.74 31.73 L172.57 31.33 L173.39 30.94 L174.22 30.59 L175.05 30.29 L175.87 30.07 L176.7 29.94 L177.53 29.9 L178.35 29.97 L179.18 30.13 L180.01 30.38 L180.83 30.69 L181.66 31.06 L182.49 31.46 L183.31 31.86 L184.14 32.23 L184.97 32.56 L185.79 32.83 L186.62 33.01 L187.45 33.09 L188.27 33.08 L189.1 32.97 L189.93 32.76 L190.75 32.48 L191.58 32.14 L192.41 31.75 L193.23 31.35 L194.06 30.96 L194.89 30.6 L195.71 30.3 L196.54 30.08 L197.37 29.94 L198.19 29.9 L199.02 29.96 L199.85 30.12 L200.67 30.36 L201.5 30.68 L202.33 31.05 L203.15 31.44 L203.98 31.84 L204.81 32.22 L205.63 32.55 L206.46 32.82 L207.29 33 L208.11 33.09 L208.94 33.08 L209.77 32.97 L210.59 32.77 L211.42 32.49 L212.25 32.15 L213.07 31.77 L213.9 31.37 L214.73 30.97 L215.55 30.62 L216.38 30.31 L217.21 30.08 L218.03 29.94 L218.86 29.9 L219.69 29.96 L220.51 30.11 L221.34 30.35 L222.17 30.67 L222.99 31.03 L223.82 31.42 L224.65 31.82 L225.47 32.2 L226.3 32.54 L227.13 32.81 L227.95 33 L228.78 33.09 L229.61 33.08 L230.43 32.98 L231.26 32.78 L232.09 32.51 L232.91 32.16 L233.74 31.78 L234.57 31.38 L235.39 30.99 L236.22 30.63 L237.05 30.32 L237.87 30.09 L238.7 29.95 L239.53 29.9 L240.35 29.95 L241.18 30.1 L242.01 30.34 L242.83 30.65 L243.66 31.01 L244.49 31.41 L245.31 31.81 L246.14 32.19 L246.97 32.53 L247.79 32.8 L248.62 32.99 L249.45 33.09 L250.27 33.09 L251.1 32.99 L251.93 32.79 L252.75 32.52 L253.58 32.18 L254.41 31.8 L255.23 31.4 L256.06 31.01 L256.89 30.64 L257.71 30.33 L258.54 30.1 L259.37 29.95 L260.19 29.9 L261.02 29.95 L261.85 30.1 L262.67 30.33 L263.5 30.64" fill="none" stroke="#e444e4" stroke-width="1.25" stroke-linejoin="round" stroke-linecap="round" />
<path d="M15.5 123.12 L16.33 121.45 L17.15 119.94 L17.98 117.88 L18.81 116.2 L19.63 114.61 L20.46 112.78 L21.29 111.58 L22.11 110.37 L22.94 109.35 L23.77 107.9 L24.59 107.29 L25.42 106.58 L26.25 106.74 L27.07 106.54 L27.9 106.18 L28.73 107.15 L29.55 107.67 L30.38 108.19 L31.21 109.09 L32.03 109.89 L32.86 111.06 L33.69 112.84 L34.51 114.04 L35.34 115.77 L36.17 117.5 L36.99 119.1 L37.82 121.16 L38.65 122.89 L39.47 124.88 L40.3 126.3 L41.13 127.93 L41.95 129.26 L42.78 130.66 L43.61 131.65 L44.43 132.47 L45.26 133.74 L46.09 134.29 L46.91 134.52 L47.74 134.55 L48.57 134.17 L49.39 133.79 L50.22 133.29 L51.05 132.4 L51.87 131.95 L52.7 130.58 L53.53 129.62 L54.35 127.88 L55.18 126.74 L56.01 125.03 L56.83 122.73 L57.66 121.13 L58.49 119.86 L59.31 117.81 L60.14 116.46 L60.97 114.41 L61.79 112.64 L62.62 111.6 L63.45 110.42 L64.27 108.94 L65.1 107.86 L65.93 107.28 L66.75 107.18 L67.58 106.7 L68.41 106.13 L69.23 106.33 L70.06 106.55 L70.89 107.06 L71.71 108.32 L72.54 108.83 L73.37 110.22 L74.19 111.42 L75.02 112.66 L75.85 114.58 L76.67 115.79 L77.5 117.85 L78.33 119.23 L79.15 121.2 L79.98 122.8 L80.81 124.55 L81.63 126.68 L82.46 128.1 L83.29 129.18 L84.11 130.87 L84.94 131.52 L85.77 132.59 L86.59 133.66 L87.42 134.06 L88.25 134.01 L89.07 134.74 L89.9 134.09 L90.73 133.79 L91.55 133.61 L92.38 132.55 L93.21 131.58 L94.03 130.3 L94.86 129.03 L95.69 127.95 L96.51 126.17 L97.34 124.79 L98.17 122.92 L98.99 121.23 L99.82 119.83 L100.65 117.75 L101.47 116.11 L102.3 114.68 L103.13 112.66 L103.95 111.22 L104.78 110.46 L105.61 109.28 L106.43 107.94 L107.26 107.16 L108.09 107 L108.91 106.81 L109.74 106.19 L110.57 106.83 L111.39 107.12 L112.22 107.47 L113.05 108.09 L113.87 108.82 L114.7 109.9 L115.53 111.83 L116.35 112.75 L117.18 114.62 L118.01 115.95 L118.83 118.05 L119.66 119.64 L120.49 121.18 L121.31 122.85 L122.14 124.93 L122.97 126.11 L123.79 127.76 L124.62 129.41 L125.45 130.89 L126.27 131.84 L127.1 132.54 L127.93 133.73 L128.75 133.77 L129.58 133.96 L130.41 134.24 L131.23 134.24 L132.06 133.63 L132.89 133.16 L133.71 132.54 L134.54 131.73 L135.37 130.3 L136.19 129.17 L137.02 128.11 L137.85 126.62 L138.67 124.76 L139.5 123.08 L140.33 121.25 L141.15 119.18 L141.98 117.37 L142.81 115.65 L143.63 114.64 L144.46 112.96 L145.29 111.73 L146.11 109.79 L146.94 109.11 L147.77 108.07 L148.59 107.51 L149.42 106.69 L150.25 106.85 L151.07 106.1 L151.9 106.56 L152.73 107.03 L153.55 107.7 L154.38 108.35 L155.21 109.28 L156.03 110.48 L156.86 111.85 L157.69 112.89 L158.51 114.67 L159.34 116.47 L160.17 118.15 L160.99 119.58 L161.82 121.6 L162.65 123.4 L163.47 124.9 L164.3 126.56 L165.13 127.93 L165.95 129.48 L166.78 130.77 L167.61 131.51 L168.43 132.83 L169.26 133.81 L170.09 134.26 L170.91 134.47 L171.74 134.32 L172.57 134.44 L173.39 133.98 L174.22 133.32 L175.05 132.84 L175.87 131.35 L176.7 130.68 L177.53 128.88 L178.35 127.85 L179.18 126.21 L180.01 124.39 L180.83 123.01 L181.66 121.12 L182.49 119.44 L183.31 117.92 L184.14 115.75 L184.97 113.95 L185.79 112.62 L186.62 111.48 L187.45 109.87 L188.27 108.75 L189.1 108.34 L189.93 107.43 L190.75 106.76 L191.58 106.76 L192.41 106.28 L193.23 106.65 L194.06 106.67 L194.89 107.4 L195.71 108.43 L196.54 109.47 L197.37 110.59 L198.19 111.54 L199.02 113.11 L199.85 114.48 L200.67 116 L201.5 117.96 L202.33 119.95 L203.15 121.72 L203.98 123.36 L204.81 125.23 L205.63 126.38 L206.46 127.84 L207.29 129.44 L208.11 130.58 L208.94 131.64 L209.77 132.7 L210.59 133.58 L211.42 134.01 L212.25 134.18 L213.07 134.64 L213.9 134.6 L214.73 133.87 L215.55 133.04 L216.38 132.24 L217.21 131.86 L218.03 130.13 L218.86 129.3 L219.69 127.76 L220.51 126.03 L221.34 124.72 L222.17 122.47 L222.99 120.8 L223.82 119.26 L224.65 117.22 L225.47 116.09 L226.3 114.05 L227.13 112.45 L227.95 110.98 L228.78 110.12 L229.61 108.9 L230.43 108.11 L231.26 107.4 L232.09 107 L232.91 106.8 L233.74 106.53 L234.57 106.33 L235.39 106.89 L236.22 107.25 L237.05 107.91 L237.87 109.2 L238.7 110.52 L239.53 111.45 L240.35 112.96 L241.18 114.57 L242.01 116.46 L242.83 118.05 L243.66 119.86 L244.49 121.72 L245.31 123.21 L246.14 125.18 L246.97 126.89 L247.79 127.84 L248.62 129.83 L249.45 130.95 L250.27 131.63 L251.1 132.77 L251.93 133.6 L252.75 134.31 L253.58 134.24 L254.41 134.45 L255.23 134.52 L256.06 134.09 L256.89 133.62 L257.71 132.5 L258.54 131.66 L259.37 130.2 L260.19 129.25 L261.02 127.88 L261.85 126.19 L262.67 124.6 L263.5 122.53" fill="none" stroke="#4242ee" stroke-width="1.4" stroke-linejoin="round" stroke-linecap="round" />
<circle cx="260.8" cy="121" r="1.1" fill="#4242ee"/>
<path d="M288.8 30.6 L289.5 30.9 L297.5 34.2 L305.5 29.5 L309.1 30.5 L315.6 33.5 L319.3 30.5 L324.4 30.2 L326.5 30.9 L339.2 36.7 L345.4 31.6 L347.5 30.9 L357.7 34.2 L360.6 32.4 L364.3 31.3 L368.5 29.2 L376.5 32.4 L380.9 32 L383.8 30.5 L387.5 29.8 L396.2 33.5 L402.6 33.1 L407.7 29.8 L410.6 28.4 L415 30.9 L420.8 33.5 L428.1 31.3 L431 29.5 L436 32.6 L440.4 33.1 L444 29.5 L448.4 29.1 L452.7 30.2 L460 33.1 L465.1 32.4 L470.2 29.5 L473 30.2 L477.4 32.4 L482.5 34.9 L487.5 32.4 L493.4 28.4 L504.3 33.1 L510.1 29.5 L513 30.2 L521.7 34.5 L525.4 32.7 L535.5 29.1 L537.4 29.5" fill="none" stroke="#44e444" stroke-width="1.3" stroke-linejoin="round" stroke-linecap="round" />
<path d="M288.8 32.2 L289.5 32.4 L294.2 34.5 L298.2 31.6 L300.4 32.4 L304 31.3 L307.6 30.9 L319.3 36.4 L322.9 32.7 L327.6 28.7 L335.5 32.4 L339.5 29.5 L346.1 28.7 L348.3 30.2 L357.7 33.5 L359.9 34.5 L364.3 30.9 L367.8 30.9 L375.1 32.7 L378.7 33.5 L382.4 33.8 L387.5 29.8 L395.5 33.1 L401.6 34.4 L407 30.5 L409.9 32 L413.5 32.4 L418.6 35.3 L422.3 33.1 L428.8 29.5 L435.4 32.4 L439 33.5 L444 36.7 L451.3 30.5 L460 34.5 L465.1 31.3 L472.4 30.9 L480.3 33.5 L484.6 30.9 L489.7 30.2 L500.6 35.6 L504.3 34.5 L508.6 31.3 L514.5 29.1 L525.4 34.5 L532.6 30.5 L537.4 32.7" fill="none" stroke="#e444e4" stroke-width="1.3" stroke-linejoin="round" stroke-linecap="round" />
<path d="M288.8 126.68 L289.63 124.95 L290.46 123.15 L291.29 121.06 L292.11 119.5 L292.94 117.49 L293.77 116.33 L294.6 114.84 L295.43 113.17 L296.26 111.84 L297.09 111.13 L297.92 110.44 L298.74 110.04 L299.57 109.5 L300.4 109.07 L301.23 109.73 L302.06 109.55 L302.89 110.62 L303.72 110.94 L304.54 112.02 L305.37 113.49 L306.2 114.34 L307.03 115.8 L307.86 117.64 L308.69 119.45 L309.52 121.28 L310.35 122.95 L311.17 124.93 L312 126.4 L312.83 128.46 L313.66 129.52 L314.49 131.19 L315.32 132.86 L316.15 134 L316.97 135.45 L317.8 136.34 L318.63 137.02 L319.46 137.8 L320.29 137.93 L321.12 137.87 L321.95 137.8 L322.78 137.78 L323.6 137.26 L324.43 136.01 L325.26 135.49 L326.09 134.42 L326.92 132.79 L327.75 131.37 L328.58 129.53 L329.4 128.09 L330.23 126.33 L331.06 124.62 L331.89 122.41 L332.72 121.29 L333.55 119.23 L334.38 117.49 L335.21 116.19 L336.03 114.58 L336.86 113.22 L337.69 112.22 L338.52 110.83 L339.35 110.41 L340.18 109.77 L341.01 109.82 L341.83 109.7 L342.66 109.36 L343.49 109.85 L344.32 110.17 L345.15 111.16 L345.98 112.4 L346.81 113.61 L347.64 114.63 L348.46 115.98 L349.29 117.48 L350.12 119.45 L350.95 121.41 L351.78 122.64 L352.61 124.89 L353.44 126.14 L354.26 128 L355.09 129.69 L355.92 131.58 L356.75 132.77 L357.58 134.09 L358.41 135.41 L359.24 136.01 L360.07 137.2 L360.89 137.31 L361.72 137.91 L362.55 137.82 L363.38 137.66 L364.21 137.54 L365.04 136.91 L365.87 136.09 L366.69 135.14 L367.52 134.06 L368.35 132.48 L369.18 131.05 L370.01 129.77 L370.84 128.1 L371.67 126.28 L372.5 124.72 L373.32 122.75 L374.15 121.14 L374.98 118.97 L375.81 117.66 L376.64 116.14 L377.47 114.76 L378.3 113.05 L379.12 111.92 L379.95 111.4 L380.78 110.15 L381.61 110.16 L382.44 109.77 L383.27 109.14 L384.1 109.35 L384.93 110.05 L385.75 110.29 L386.58 110.96 L387.41 112.46 L388.24 113.33 L389.07 114.91 L389.9 115.91 L390.73 117.69 L391.55 119.57 L392.38 120.84 L393.21 122.76 L394.04 124.89 L394.87 126.83 L395.7 128.61 L396.53 129.67 L397.36 131.51 L398.18 133.13 L399.01 134.25 L399.84 135.5 L400.67 136.1 L401.5 136.76 L402.33 137.32 L403.16 137.59 L403.98 138.03 L404.81 137.87 L405.64 137.55 L406.47 136.68 L407.3 135.92 L408.13 134.95 L408.96 134.23 L409.79 133.01 L410.61 131.5 L411.44 129.33 L412.27 127.62 L413.1 126.5 L413.93 124.37 L414.76 122.79 L415.59 120.7 L416.41 119.06 L417.24 117.44 L418.07 115.81 L418.9 114.49 L419.73 112.79 L420.56 112.15 L421.39 111.31 L422.22 110.1 L423.04 109.76 L423.87 109.65 L424.7 109.34 L425.53 109.33 L426.36 109.67 L427.19 110.5 L428.02 110.94 L428.84 112.54 L429.67 113.64 L430.5 114.91 L431.33 116.49 L432.16 117.91 L432.99 119.44 L433.82 121.32 L434.65 123.04 L435.47 125.17 L436.3 126.83 L437.13 128.18 L437.96 130.3 L438.79 131.74 L439.62 133.2 L440.45 134.51 L441.27 135.35 L442.1 136.63 L442.93 137.35 L443.76 137.75 L444.59 138.1 L445.42 138.18 L446.25 137.79 L447.08 137.64 L447.9 136.6 L448.73 135.99 L449.56 135.09 L450.39 133.6 L451.22 132.51 L452.05 131.23 L452.88 129.63 L453.7 127.67 L454.53 126.42 L455.36 124.44 L456.19 122.41 L457.02 120.86 L457.85 119.07 L458.68 117.38 L459.51 115.72 L460.33 114.72 L461.16 113.18 L461.99 112.11 L462.82 111.22 L463.65 110.64 L464.48 109.45 L465.31 109.56 L466.13 109.57 L466.96 109.38 L467.79 109.86 L468.62 110.2 L469.45 111.1 L470.28 112.22 L471.11 113.2 L471.94 114.65 L472.76 116.58 L473.59 117.92 L474.42 119.58 L475.25 121.65 L476.08 123.16 L476.91 125.25 L477.74 126.78 L478.56 128.63 L479.39 129.78 L480.22 131.7 L481.05 133.24 L481.88 134.02 L482.71 135.76 L483.54 136.15 L484.37 137.09 L485.19 137.4 L486.02 137.92 L486.85 138.07 L487.68 137.53 L488.51 137.78 L489.34 136.81 L490.17 136.09 L490.99 135.14 L491.82 133.8 L492.65 132.4 L493.48 131.18 L494.31 129.52 L495.14 127.64 L495.97 126.19 L496.8 124.11 L497.62 122.12 L498.45 120.5 L499.28 118.63 L500.11 117.05 L500.94 115.92 L501.77 114.24 L502.6 113.31 L503.42 112.1 L504.25 110.69 L505.08 110.62 L505.91 110.07 L506.74 109.17 L507.57 109.69 L508.4 109.51 L509.23 109.93 L510.05 110.88 L510.88 111.17 L511.71 112.37 L512.54 113.84 L513.37 115.03 L514.2 116.34 L515.03 118.29 L515.85 119.86 L516.68 121.47 L517.51 122.91 L518.34 125.07 L519.17 126.73 L520 128.28 L520.83 129.82 L521.66 131.71 L522.48 132.85 L523.31 134.35 L524.14 135.61 L524.97 136.39 L525.8 136.97 L526.63 137.7 L527.46 137.88 L528.28 138.19 L529.11 137.85 L529.94 137.79 L530.77 137.16 L531.6 136.19 L532.43 134.84 L533.26 133.57 L534.09 132.77 L534.91 131.21 L535.74 129.5 L536.57 127.62 L537.4 125.81" fill="none" stroke="#4242ee" stroke-width="1.4" stroke-linejoin="round" stroke-linecap="round" />
<circle cx="535.5" cy="124.2" r="1.1" fill="#4242ee"/>
<rect x="167.3" y="26.4" width="19.2" height="9.9" fill="none" stroke="#f25555" stroke-width="1"/>
<rect x="196.6" y="39.3" width="43.2" height="31.4" fill="#fff" stroke="#f25555" stroke-width="1.1"/>
<line x1="186.5" y1="26.6" x2="194.29" y2="36.56" stroke="#000" stroke-width="0.8"/>
<path d="M196.2 39L192.72 37.15L195.24 35.18Z" fill="#000"/>
<line x1="186.3" y1="36.3" x2="195.33" y2="67.22" stroke="#000" stroke-width="0.8"/>
<path d="M196.2 70.2L193.65 67.19L196.73 66.3Z" fill="#000"/>
<path d="M197.3 53.4 L199.6 54 L202 51.7 L205.1 48.9 L209.6 45.6 L213.5 44.3 L216.3 46.2 L221.8 51.2 L226.3 53.6 L230.7 51.2 L235.2 46.7 L239.1 43.9" fill="none" stroke="#44e444" stroke-width="1.5" stroke-linejoin="round" stroke-linecap="round" />
<path d="M197.3 54.2 L199.6 54.8 L202 52.5 L205.1 49.7 L209.6 46.4 L213.5 45.1 L216.3 47 L221.8 52 L226.3 54.4 L230.7 52 L235.2 47.5 L239.1 44.7" fill="none" stroke="#e444e4" stroke-width="0.9" stroke-linejoin="round" stroke-linecap="round" />
<line x1="207.4" y1="43.9" x2="223.8" y2="43.9" stroke="#888" stroke-width="0.9"/>
<line x1="198.5" y1="55.4" x2="214" y2="55.4" stroke="#333" stroke-width="0.9"/>
<line x1="213.8" y1="50" x2="213.8" y2="46.9" stroke="#000" stroke-width="0.8"/>
<path d="M213.8 44.4L215.2 47.4L212.4 47.4Z" fill="#000"/>
<line x1="213.8" y1="50" x2="213.8" y2="52.9" stroke="#000" stroke-width="0.8"/>
<path d="M213.8 55.4L212.4 52.4L215.2 52.4Z" fill="#000"/>
<line x1="244" y1="60.6" x2="219.23" y2="50.68" stroke="#000" stroke-width="0.9"/>
<path d="M215.8 49.3L220.37 49.19L219.03 52.53Z" fill="#000"/>
<text x="197.4" y="66.9" font-family="'Liberation Serif', 'DejaVu Serif', serif" font-size="7.7" font-weight="bold" font-style="normal" fill="#111" text-anchor="start"  stroke="#111" stroke-width="0.22">[5 V/div]</text>
<text transform="translate(243.8 66.9) scale(1.2 1)" x="0" y="0" font-family="'Liberation Serif', 'DejaVu Serif', serif" font-size="12.3" font-weight="bold" fill="#111" stroke="#111" stroke-width="0.3">Δ</text>
<text x="252.8" y="66.2" font-family="'Liberation Serif', 'DejaVu Serif', serif" font-size="12" font-weight="normal" font-style="italic" fill="#111" text-anchor="start" stroke="#111" stroke-width="0.3">v</text>
<text x="258.6" y="68.4" font-family="'Liberation Serif', 'DejaVu Serif', serif" font-size="8.2" font-weight="normal" font-style="normal" fill="#111" text-anchor="start" stroke="#111" stroke-width="0.2">c</text>
<rect x="441.6" y="26.5" width="19" height="12.7" fill="none" stroke="#f25555" stroke-width="1"/>
<rect x="471.3" y="42.4" width="43.5" height="31.7" fill="#fff" stroke="#f25555" stroke-width="1.1"/>
<line x1="460.6" y1="26.8" x2="469.27" y2="39.63" stroke="#000" stroke-width="0.8"/>
<path d="M471 42.2L467.66 40.11L470.31 38.32Z" fill="#000"/>
<line x1="460.4" y1="39.2" x2="469.99" y2="70.64" stroke="#000" stroke-width="0.8"/>
<path d="M470.9 73.6L468.32 70.62L471.38 69.69Z" fill="#000"/>
<path d="M473.5 60 L477.4 52.8 L480.7 49.5 L482.9 47.8 L487.4 46.1 L491.3 52.2 L495.7 55.6 L500.2 59.5 L503.5 53.4 L507.4 48.4 L510.8 46.1 L513 48.4" fill="none" stroke="#44e444" stroke-width="1.2" stroke-linejoin="round" stroke-linecap="round" />
<path d="M473.5 50.6 L475.1 51.7 L478.5 47.2 L480.1 47.8 L482.4 44.5 L484.6 46.1 L486.8 47.2 L490.2 52.2 L493.5 55.6 L496.8 56.7 L499.6 51.1 L502.4 52.2 L505.7 48.9 L508 50 L512.4 46.1" fill="none" stroke="#e444e4" stroke-width="1.2" stroke-linejoin="round" stroke-linecap="round" />
<line x1="479" y1="43.3" x2="495.7" y2="43.3" stroke="#888" stroke-width="0.9"/>
<line x1="473.5" y1="60" x2="489" y2="60" stroke="#333" stroke-width="0.9"/>
<line x1="488.5" y1="52" x2="488.5" y2="46.1" stroke="#000" stroke-width="0.8"/>
<path d="M488.5 43.6L489.9 46.6L487.1 46.6Z" fill="#000"/>
<line x1="488.5" y1="52" x2="488.5" y2="57.3" stroke="#000" stroke-width="0.8"/>
<path d="M488.5 59.8L487.1 56.8L489.9 56.8Z" fill="#000"/>
<line x1="518.8" y1="64.6" x2="494.14" y2="54.77" stroke="#000" stroke-width="0.9"/>
<path d="M490.7 53.4L495.27 53.28L493.94 56.63Z" fill="#000"/>
<text x="472.5" y="69.9" font-family="'Liberation Serif', 'DejaVu Serif', serif" font-size="7.7" font-weight="bold" font-style="normal" fill="#111" text-anchor="start"  stroke="#111" stroke-width="0.22">[5 V/div]</text>
<text transform="translate(518.0 70.6) scale(1.22 1)" x="0" y="0" font-family="'Liberation Serif', 'DejaVu Serif', serif" font-size="12.8" font-weight="bold" fill="#111" stroke="#111" stroke-width="0.3">Δ</text>
<text x="527.2" y="70.2" font-family="'Liberation Serif', 'DejaVu Serif', serif" font-size="12" font-weight="normal" font-style="italic" fill="#111" text-anchor="start" stroke="#111" stroke-width="0.3">v</text>
<text x="533" y="72.4" font-family="'Liberation Serif', 'DejaVu Serif', serif" font-size="8.2" font-weight="normal" font-style="normal" fill="#111" text-anchor="start" stroke="#111" stroke-width="0.2">c</text>
<text x="55" y="51.4" font-family="'Liberation Serif', 'DejaVu Serif', serif" font-size="12.3" font-weight="normal" font-style="italic" fill="#111" text-anchor="start" stroke="#111" stroke-width="0.3">v</text>
<text x="60.7" y="53.6" font-family="'Liberation Serif', 'DejaVu Serif', serif" font-size="7.6" font-weight="normal" font-style="normal" fill="#111" text-anchor="start" letter-spacing="0.5" stroke="#111" stroke-width="0.15">c1</text>
<text x="70.1" y="52.6" font-family="'Liberation Serif', 'DejaVu Serif', serif" font-size="7.8" font-weight="bold" font-style="normal" fill="#111" text-anchor="start"  stroke="#111" stroke-width="0.22">[10 V/div]</text>
<line x1="57.2" y1="43.4" x2="50.79" y2="36.34" stroke="#000" stroke-width="0.9"/>
<path d="M48.3 33.6L52.53 35.43L49.72 37.99Z" fill="#000"/>
<text x="107.9" y="50.1" font-family="'Liberation Serif', 'DejaVu Serif', serif" font-size="12.3" font-weight="normal" font-style="italic" fill="#111" text-anchor="start" stroke="#111" stroke-width="0.3">v</text>
<text x="113.6" y="52.3" font-family="'Liberation Serif', 'DejaVu Serif', serif" font-size="7.6" font-weight="normal" font-style="normal" fill="#111" text-anchor="start" letter-spacing="0.5" stroke="#111" stroke-width="0.15">c2</text>
<text x="122.6" y="50.8" font-family="'Liberation Serif', 'DejaVu Serif', serif" font-size="7.8" font-weight="bold" font-style="normal" fill="#111" text-anchor="start"  stroke="#111" stroke-width="0.22">[10 V/div]</text>
<line x1="110.3" y1="42.7" x2="104.34" y2="35.37" stroke="#000" stroke-width="0.9"/>
<path d="M102 32.5L106.12 34.56L103.18 36.96Z" fill="#000"/>
<text x="328" y="54.8" font-family="'Liberation Serif', 'DejaVu Serif', serif" font-size="12.3" font-weight="normal" font-style="italic" fill="#111" text-anchor="start" stroke="#111" stroke-width="0.3">v</text>
<text x="333.7" y="57" font-family="'Liberation Serif', 'DejaVu Serif', serif" font-size="7.6" font-weight="normal" font-style="normal" fill="#111" text-anchor="start" letter-spacing="0.5" stroke="#111" stroke-width="0.15">c1</text>
<text x="343.3" y="55.8" font-family="'Liberation Serif', 'DejaVu Serif', serif" font-size="7.8" font-weight="bold" font-style="normal" fill="#111" text-anchor="start"  stroke="#111" stroke-width="0.22">[10 V/div]</text>
<line x1="330.4" y1="46.5" x2="324.03" y2="39.7" stroke="#000" stroke-width="0.9"/>
<path d="M321.5 37L325.76 38.77L322.98 41.36Z" fill="#000"/>
<text x="381.2" y="49.7" font-family="'Liberation Serif', 'DejaVu Serif', serif" font-size="12.3" font-weight="normal" font-style="italic" fill="#111" text-anchor="start" stroke="#111" stroke-width="0.3">v</text>
<text x="386.9" y="51.9" font-family="'Liberation Serif', 'DejaVu Serif', serif" font-size="7.6" font-weight="normal" font-style="normal" fill="#111" text-anchor="start" letter-spacing="0.5" stroke="#111" stroke-width="0.15">c2</text>
<text x="396.8" y="50.8" font-family="'Liberation Serif', 'DejaVu Serif', serif" font-size="7.8" font-weight="bold" font-style="normal" fill="#111" text-anchor="start"  stroke="#111" stroke-width="0.22">[10 V/div]</text>
<line x1="383.4" y1="43.4" x2="377.93" y2="36.15" stroke="#000" stroke-width="0.9"/>
<path d="M375.7 33.2L379.75 35.41L376.71 37.7Z" fill="#000"/>
<text x="88" y="102.1" font-family="'Liberation Serif', 'DejaVu Serif', serif" font-size="12.3" font-weight="normal" font-style="italic" fill="#111" text-anchor="start" >i</text>
<text x="90.6" y="104.1" font-family="'Liberation Serif', 'DejaVu Serif', serif" font-size="7.6" font-weight="normal" font-style="normal" fill="#111" text-anchor="start" >s</text>
<text x="96.3" y="101.8" font-family="'Liberation Serif', 'DejaVu Serif', serif" font-size="7.8" font-weight="bold" font-style="normal" fill="#111" text-anchor="start"  stroke="#111" stroke-width="0.22">[5 A/div]</text>
<line x1="87.8" y1="104" x2="79.16" y2="111.73" stroke="#000" stroke-width="0.9"/>
<path d="M76.4 114.2L78.26 109.98L80.8 112.82Z" fill="#000"/>
<text x="361.6" y="105.9" font-family="'Liberation Serif', 'DejaVu Serif', serif" font-size="12.3" font-weight="normal" font-style="italic" fill="#111" text-anchor="start" >i</text>
<text x="364.2" y="107.9" font-family="'Liberation Serif', 'DejaVu Serif', serif" font-size="7.6" font-weight="normal" font-style="normal" fill="#111" text-anchor="start" >s</text>
<text x="369.4" y="105.6" font-family="'Liberation Serif', 'DejaVu Serif', serif" font-size="7.8" font-weight="bold" font-style="normal" fill="#111" text-anchor="start"  stroke="#111" stroke-width="0.22">[5 A/div]</text>
<line x1="361.5" y1="107.8" x2="353.43" y2="115.2" stroke="#000" stroke-width="0.9"/>
<path d="M350.7 117.7L352.51 113.46L355.08 116.26Z" fill="#000"/>
<text x="223.8" y="148.9" font-family="'Liberation Serif', 'DejaVu Serif', serif" font-size="7.7" font-weight="bold" font-style="normal" fill="#111" text-anchor="start"  stroke="#111" stroke-width="0.22">[10 ms/div]</text>
<text x="498.3" y="153.4" font-family="'Liberation Serif', 'DejaVu Serif', serif" font-size="7.7" font-weight="bold" font-style="normal" fill="#111" text-anchor="start"  stroke="#111" stroke-width="0.22">[10 ms/div]</text>
<path d="M8.2 117.8h4l2.2 2.6l-2.2 2.6h-4z" fill="#fff" stroke="#4242ee" stroke-width="0.8"/>
<text x="9" y="122.7" font-family="'Liberation Serif', 'DejaVu Serif', serif" font-size="6.2" font-weight="bold" fill="#4242ee">1</text>
<path d="M281.6 121.5h4l2.2 2.6l-2.2 2.6h-4z" fill="#fff" stroke="#4242ee" stroke-width="0.8"/>
<text x="282.4" y="126.4" font-family="'Liberation Serif', 'DejaVu Serif', serif" font-size="6.2" font-weight="bold" fill="#4242ee">1</text>
<path d="M8.8 150.7h4.2l2 1.9l-2 1.9h-4.2z" fill="#cc11cc"/>
<path d="M282.4 154.5h4.2l2 1.9l-2 1.9h-4.2z" fill="#cc11cc"/>
<path d="M137.7 22.3h3.6l-1.8 2z" fill="#ff9a14"/>
<rect x="137.3" y="24.9" width="4.4" height="4.6" rx="1" fill="#ff9a14"/>
<text x="139.5" y="28.9" font-family="'Liberation Serif', 'DejaVu Serif', serif" font-size="4.6" font-weight="bold" fill="#ffe0a0" text-anchor="middle">T</text>
<path d="M411.3 23.4h3.6l-1.8 2z" fill="#ff9a14"/>
<rect x="410.9" y="26" width="4.4" height="4.6" rx="1" fill="#ff9a14"/>
<text x="413.1" y="30" font-family="'Liberation Serif', 'DejaVu Serif', serif" font-size="4.6" font-weight="bold" fill="#ffe0a0" text-anchor="middle">T</text>
<line x1="15.5" y1="210.3" x2="261.8" y2="210.3" stroke="#22eeee" stroke-width="1"/>
<rect x="16.7" y="183.8" width="19.9" height="27" fill="#b4f8f8"/>
<path d="M16.7 183.8h0.91V210.8h-0.91zM18.9 183.8h2.05V210.8h-2.05zM21.1 183.8h2.2V210.8h-2.2zM23.3 183.8h2.03V210.8h-2.03zM25.5 183.8h2.2V210.8h-2.2zM27.7 183.8h2.2V210.8h-2.2zM29.9 183.8h2.2V210.8h-2.2zM32.1 183.8h2.02V210.8h-2.02zM34.3 183.8h0.91V210.8h-0.91z" fill="#22eeee"/>
<path d="M17.2 183.8V210.8M36.1 183.8V210.8" stroke="#22eeee" stroke-width="1"/>
<path d="M16.7 184.3H36.6M16.7 210.3H36.6" stroke="#22eeee" stroke-width="1"/>
<rect x="58.6" y="183.8" width="22.3" height="27" fill="#b4f8f8"/>
<path d="M58.6 183.8h0.78V210.8h-0.78zM60.8 183.8h1.98V210.8h-1.98zM63 183.8h1.93V210.8h-1.93zM65.2 183.8h2.2V210.8h-2.2zM67.4 183.8h1.86V210.8h-1.86zM69.6 183.8h2.2V210.8h-2.2zM71.8 183.8h2.2V210.8h-2.2zM74 183.8h1.79V210.8h-1.79zM76.2 183.8h2.12V210.8h-2.12zM78.4 183.8h1V210.8h-1zM80.6 183.8h0.3V210.8h-0.3z" fill="#22eeee"/>
<path d="M59.1 183.8V210.8M80.4 183.8V210.8" stroke="#22eeee" stroke-width="1"/>
<path d="M58.6 184.3H80.9M58.6 210.3H80.9" stroke="#22eeee" stroke-width="1"/>
<rect x="101" y="183.8" width="21.2" height="27" fill="#b4f8f8"/>
<path d="M101 183.8h0.8V210.8h-0.8zM103.2 183.8h1.75V210.8h-1.75zM105.4 183.8h2.2V210.8h-2.2zM107.6 183.8h2.11V210.8h-2.11zM109.8 183.8h2.06V210.8h-2.06zM112 183.8h2.2V210.8h-2.2zM114.2 183.8h1.75V210.8h-1.75zM116.4 183.8h1.68V210.8h-1.68zM118.6 183.8h1V210.8h-1zM120.8 183.8h0.91V210.8h-0.91z" fill="#22eeee"/>
<path d="M101.5 183.8V210.8M121.7 183.8V210.8" stroke="#22eeee" stroke-width="1"/>
<path d="M101 184.3H122.2M101 210.3H122.2" stroke="#22eeee" stroke-width="1"/>
<rect x="142.9" y="183.8" width="17" height="27" fill="#b4f8f8"/>
<path d="M142.9 183.8h1V210.8h-1zM145.1 183.8h1.6V210.8h-1.6zM147.3 183.8h1.91V210.8h-1.91zM149.5 183.8h2.2V210.8h-2.2zM151.7 183.8h2.09V210.8h-2.09zM153.9 183.8h1.67V210.8h-1.67zM156.1 183.8h2.02V210.8h-2.02zM158.3 183.8h1V210.8h-1z" fill="#22eeee"/>
<path d="M143.4 183.8V210.8M159.4 183.8V210.8" stroke="#22eeee" stroke-width="1"/>
<path d="M142.9 184.3H159.9M142.9 210.3H159.9" stroke="#22eeee" stroke-width="1"/>
<rect x="183.6" y="183.8" width="18.2" height="27" fill="#b4f8f8"/>
<path d="M183.6 183.8h1V210.8h-1zM185.8 183.8h1.52V210.8h-1.52zM188 183.8h2.2V210.8h-2.2zM190.2 183.8h2.2V210.8h-2.2zM192.4 183.8h1.97V210.8h-1.97zM194.6 183.8h2.03V210.8h-2.03zM196.8 183.8h2.1V210.8h-2.1zM199 183.8h1V210.8h-1zM201.2 183.8h0.6V210.8h-0.6z" fill="#22eeee"/>
<path d="M184.1 183.8V210.8M201.3 183.8V210.8" stroke="#22eeee" stroke-width="1"/>
<path d="M183.6 184.3H201.8M183.6 210.3H201.8" stroke="#22eeee" stroke-width="1"/>
<rect x="224.8" y="183.8" width="20.1" height="27" fill="#b4f8f8"/>
<path d="M224.8 183.8h1V210.8h-1zM227 183.8h2.03V210.8h-2.03zM229.2 183.8h2.2V210.8h-2.2zM231.4 183.8h2.07V210.8h-2.07zM233.6 183.8h2.2V210.8h-2.2zM235.8 183.8h2.2V210.8h-2.2zM238 183.8h2.2V210.8h-2.2zM240.2 183.8h1.8V210.8h-1.8zM242.4 183.8h1V210.8h-1zM244.6 183.8h0.3V210.8h-0.3z" fill="#22eeee"/>
<path d="M225.3 183.8V210.8M244.4 183.8V210.8" stroke="#22eeee" stroke-width="1"/>
<path d="M224.8 184.3H244.9M224.8 210.3H244.9" stroke="#22eeee" stroke-width="1"/>
<line x1="81.6" y1="184" x2="81.6" y2="210.3" stroke="#22eeee" stroke-width="0.7"/>
<line x1="15.5" y1="250.3" x2="261.8" y2="250.3" stroke="#22eeee" stroke-width="1"/>
<line x1="15.5" y1="250.3" x2="15.5" y2="276.5" stroke="#22eeee" stroke-width="1"/>
<rect x="38.1" y="249.8" width="19.9" height="27" fill="#b4f8f8"/>
<path d="M38.1 249.8h1V276.8h-1zM40.3 249.8h2.14V276.8h-2.14zM42.5 249.8h1.67V276.8h-1.67zM44.7 249.8h1.88V276.8h-1.88zM46.9 249.8h2.2V276.8h-2.2zM49.1 249.8h2.2V276.8h-2.2zM51.3 249.8h2.2V276.8h-2.2zM53.5 249.8h1.59V276.8h-1.59zM55.7 249.8h1V276.8h-1z" fill="#22eeee"/>
<path d="M38.6 249.8V276.8M57.5 249.8V276.8" stroke="#22eeee" stroke-width="1"/>
<path d="M38.1 250.3H58M38.1 276.3H58" stroke="#22eeee" stroke-width="1"/>
<rect x="79.2" y="249.8" width="19" height="27" fill="#b4f8f8"/>
<path d="M79.2 249.8h1V276.8h-1zM81.4 249.8h1.84V276.8h-1.84zM83.6 249.8h1.79V276.8h-1.79zM85.8 249.8h2.2V276.8h-2.2zM88 249.8h2.2V276.8h-2.2zM90.2 249.8h2.2V276.8h-2.2zM92.4 249.8h2.2V276.8h-2.2zM94.6 249.8h2.01V276.8h-2.01zM96.8 249.8h0.97V276.8h-0.97z" fill="#22eeee"/>
<path d="M79.7 249.8V276.8M97.7 249.8V276.8" stroke="#22eeee" stroke-width="1"/>
<path d="M79.2 250.3H98.2M79.2 276.3H98.2" stroke="#22eeee" stroke-width="1"/>
<rect x="119.2" y="249.8" width="18.4" height="27" fill="#b4f8f8"/>
<path d="M119.2 249.8h1V276.8h-1zM121.4 249.8h1.59V276.8h-1.59zM123.6 249.8h1.7V276.8h-1.7zM125.8 249.8h1.86V276.8h-1.86zM128 249.8h2.2V276.8h-2.2zM130.2 249.8h2.03V276.8h-2.03zM132.4 249.8h1.82V276.8h-1.82zM134.6 249.8h1V276.8h-1zM136.8 249.8h0.7V276.8h-0.7z" fill="#22eeee"/>
<path d="M119.7 249.8V276.8M137.1 249.8V276.8" stroke="#22eeee" stroke-width="1"/>
<path d="M119.2 250.3H137.6M119.2 276.3H137.6" stroke="#22eeee" stroke-width="1"/>
<rect x="162.9" y="249.8" width="15.1" height="27" fill="#b4f8f8"/>
<path d="M162.9 249.8h1V276.8h-1zM165.1 249.8h1.68V276.8h-1.68zM167.3 249.8h1.8V276.8h-1.8zM169.5 249.8h2.16V276.8h-2.16zM171.7 249.8h1.87V276.8h-1.87zM173.9 249.8h1.86V276.8h-1.86zM176.1 249.8h1V276.8h-1z" fill="#22eeee"/>
<path d="M163.4 249.8V276.8M177.5 249.8V276.8" stroke="#22eeee" stroke-width="1"/>
<path d="M162.9 250.3H178M162.9 276.3H178" stroke="#22eeee" stroke-width="1"/>
<rect x="203.6" y="249.8" width="18" height="27" fill="#b4f8f8"/>
<path d="M203.6 249.8h1V276.8h-1zM205.8 249.8h1.53V276.8h-1.53zM208 249.8h2.2V276.8h-2.2zM210.2 249.8h2.2V276.8h-2.2zM212.4 249.8h2.2V276.8h-2.2zM214.6 249.8h2.2V276.8h-2.2zM216.8 249.8h2.11V276.8h-2.11zM219 249.8h1V276.8h-1zM221.2 249.8h0.4V276.8h-0.4z" fill="#22eeee"/>
<path d="M204.1 249.8V276.8M221.1 249.8V276.8" stroke="#22eeee" stroke-width="1"/>
<path d="M203.6 250.3H221.6M203.6 276.3H221.6" stroke="#22eeee" stroke-width="1"/>
<rect x="244.2" y="249.8" width="17.6" height="27" fill="#b4f8f8"/>
<path d="M244.2 249.8h1V276.8h-1zM246.4 249.8h2.2V276.8h-2.2zM248.6 249.8h1.84V276.8h-1.84zM250.8 249.8h2.2V276.8h-2.2zM253 249.8h2.2V276.8h-2.2zM255.2 249.8h2.1V276.8h-2.1zM257.4 249.8h1.85V276.8h-1.85zM259.6 249.8h1V276.8h-1z" fill="#22eeee"/>
<path d="M244.7 249.8V276.8M261.3 249.8V276.8" stroke="#22eeee" stroke-width="1"/>
<path d="M244.2 250.3H261.8M244.2 276.3H261.8" stroke="#22eeee" stroke-width="1"/>
<path d="M289 212.5 L296.5 212.5 L296.5 185.5 L299.5 185.5 L299.5 212.5 L301.5 212.5 L301.5 185.5 L302.5 185.5 L302.5 212.5 L303.5 212.5 L303.5 185.5 L304.5 185.5 L304.5 212.5 L305.5 212.5 L305.5 185.5 L307.5 185.5 L307.5 212.5 L311.5 212.5 L311.5 185.5 L315.5 185.5 L315.5 212.5 L337.5 212.5 L337.5 185.5 L341.5 185.5 L341.5 212.5 L342.5 212.5 L342.5 185.5 L342.5 185.5 L342.5 212.5 L343.5 212.5 L343.5 185.5 L344.5 185.5 L344.5 212.5 L345.5 212.5 L345.5 185.5 L358.5 185.5 L358.5 212.5 L379.5 212.5 L379.5 185.5 L384.5 185.5 L384.5 212.5 L385.5 212.5 L385.5 185.5 L386.5 185.5 L386.5 212.5 L389.5 212.5 L389.5 185.5 L390.5 185.5 L390.5 212.5 L393.5 212.5 L393.5 185.5 L397.5 185.5 L397.5 212.5 L422.5 212.5 L422.5 185.5 L425.5 185.5 L425.5 212.5 L426.5 212.5 L426.5 185.5 L428.5 185.5 L428.5 212.5 L429.5 212.5 L429.5 185.5 L433.5 185.5 L433.5 212.5 L437.5 212.5 L437.5 185.5 L440.5 185.5 L440.5 212.5 L465.5 212.5 L465.5 185.5 L466.5 185.5 L466.5 212.5 L467.5 212.5 L467.5 185.5 L470.5 185.5 L470.5 212.5 L472.5 212.5 L472.5 185.5 L480.5 185.5 L480.5 212.5 L505.5 212.5 L505.5 185.5 L509.5 185.5 L509.5 212.5 L510.5 212.5 L510.5 185.5 L512.5 185.5 L512.5 212.5 L514.5 212.5 L514.5 185.5 L524.5 185.5 L524.5 212.5 L540.3 212.5" fill="none" stroke="#22eeee" stroke-width="1.0" stroke-linejoin="miter"/>
<path d="M289 278.5 L292.5 278.5 L292.5 252.5 L315.5 252.5 L315.5 278.5 L320.5 278.5 L320.5 252.5 L322.5 252.5 L322.5 278.5 L327.5 278.5 L327.5 252.5 L357.5 252.5 L357.5 278.5 L358.5 278.5 L358.5 252.5 L359.5 252.5 L359.5 278.5 L361.5 278.5 L361.5 252.5 L363.5 252.5 L363.5 278.5 L365.5 278.5 L365.5 252.5 L367.5 252.5 L367.5 278.5 L371.5 278.5 L371.5 252.5 L373.5 252.5 L373.5 278.5 L377.5 278.5 L377.5 252.5 L397.5 252.5 L397.5 278.5 L405.5 278.5 L405.5 252.5 L407.5 252.5 L407.5 278.5 L409.5 278.5 L409.5 252.5 L412.5 252.5 L412.5 278.5 L419.5 278.5 L419.5 252.5 L445.5 252.5 L445.5 278.5 L447.5 278.5 L447.5 252.5 L449.5 252.5 L449.5 278.5 L450.5 278.5 L450.5 252.5 L451.5 252.5 L451.5 278.5 L460.5 278.5 L460.5 252.5 L483.5 252.5 L483.5 278.5 L485.5 278.5 L485.5 252.5 L486.5 252.5 L486.5 278.5 L487.5 278.5 L487.5 252.5 L489.5 252.5 L489.5 278.5 L491.5 278.5 L491.5 252.5 L492.5 252.5 L492.5 278.5 L501.5 278.5 L501.5 252.5 L526.5 252.5 L526.5 278.5 L527.5 278.5 L527.5 252.5 L528.5 252.5 L528.5 278.5 L529.5 278.5 L529.5 252.5 L530.5 252.5 L530.5 278.5 L532.5 278.5 L532.5 252.5 L533.5 252.5 L533.5 278.5 L534.5 278.5 L534.5 252.5 L535.5 252.5 L535.5 278.5 L538.5 278.5 L538.5 252.5 L540.3 252.5" fill="none" stroke="#22eeee" stroke-width="1.0" stroke-linejoin="miter"/>
<rect x="320.2" y="252.5" width="2.6" height="26" fill="#22eeee"/>
<text x="167.4" y="175.2" font-family="'Liberation Serif', 'DejaVu Serif', serif" font-size="13.5" font-weight="normal" font-style="normal" fill="#111" text-anchor="start" >S</text>
<text x="173.8" y="177" font-family="'Liberation Serif', 'DejaVu Serif', serif" font-size="8.9" font-weight="normal" font-style="normal" fill="#111" text-anchor="start" stroke="#111" stroke-width="0.25">a1</text>
<line x1="172.2" y1="176.8" x2="164" y2="185.07" stroke="#000" stroke-width="0.9"/>
<path d="M161.4 187.7L163.01 183.38L165.71 186.05Z" fill="#000"/>
<text x="176.7" y="240.4" font-family="'Liberation Serif', 'DejaVu Serif', serif" font-size="13.5" font-weight="normal" font-style="normal" fill="#111" text-anchor="start" >S</text>
<text x="183.1" y="242.2" font-family="'Liberation Serif', 'DejaVu Serif', serif" font-size="8.9" font-weight="normal" font-style="normal" fill="#111" text-anchor="start" stroke="#111" stroke-width="0.25">a2</text>
<line x1="182.3" y1="242.7" x2="174.37" y2="249.74" stroke="#000" stroke-width="0.9"/>
<path d="M171.6 252.2L173.48 247.99L176 250.83Z" fill="#000"/>
<text x="455.8" y="241.9" font-family="'Liberation Serif', 'DejaVu Serif', serif" font-size="13.8" font-weight="normal" font-style="normal" fill="#111" text-anchor="start" >S</text>
<text x="462.4" y="243.7" font-family="'Liberation Serif', 'DejaVu Serif', serif" font-size="9.8" font-weight="normal" font-style="normal" fill="#111" text-anchor="start" stroke="#111" stroke-width="0.25">a2</text>
<line x1="459.4" y1="244.4" x2="452.32" y2="251.48" stroke="#000" stroke-width="0.9"/>
<path d="M449.7 254.1L451.33 249.79L454.01 252.47Z" fill="#000"/>
<text x="445.7" y="175.9" font-family="'Liberation Serif', 'DejaVu Serif', serif" font-size="13.8" font-weight="normal" font-style="normal" fill="#111" text-anchor="start" >S</text>
<text x="452.3" y="177.7" font-family="'Liberation Serif', 'DejaVu Serif', serif" font-size="9.8" font-weight="normal" font-style="normal" fill="#111" text-anchor="start" stroke="#111" stroke-width="0.25">a1</text>
<line x1="450.5" y1="177.5" x2="442.82" y2="185.18" stroke="#000" stroke-width="0.9"/>
<path d="M440.2 187.8L441.83 183.49L444.51 186.17Z" fill="#000"/>
<text x="224.5" y="289.2" font-family="'Liberation Serif', 'DejaVu Serif', serif" font-size="7.7" font-weight="bold" font-style="normal" fill="#111" text-anchor="start"  stroke="#111" stroke-width="0.22">[10ms/div]</text>
<text x="503.4" y="290.8" font-family="'Liberation Serif', 'DejaVu Serif', serif" font-size="7.9" font-weight="bold" font-style="normal" fill="#111" text-anchor="start"  stroke="#111" stroke-width="0.22">[10ms/div]</text>
<path d="M9 207.5h3.6l2.4 2.4l-2.4 2.4h-3.6z" fill="#22eeee"/>
<text x="9.2" y="211.9" font-family="'Liberation Serif', 'DejaVu Serif', serif" font-size="5" fill="#bff">F2</text>
<path d="M9 273.6h3.6l2.4 2.4l-2.4 2.4h-3.6z" fill="#22eeee"/>
<text x="9.2" y="278" font-family="'Liberation Serif', 'DejaVu Serif', serif" font-size="5" fill="#bff">F2</text>
<path d="M282.8 209.4h3.6l2.4 2.4l-2.4 2.4h-3.6z" fill="#22eeee"/>
<text x="283" y="213.8" font-family="'Liberation Serif', 'DejaVu Serif', serif" font-size="5" fill="#bff">F2</text>
<path d="M282.8 275.6h3.6l2.4 2.4l-2.4 2.4h-3.6z" fill="#22eeee"/>
<text x="283" y="280" font-family="'Liberation Serif', 'DejaVu Serif', serif" font-size="5" fill="#bff">F2</text>
<path d="M136.85 161.3h3.6l-1.8 2z" fill="#ff9a14"/>
<rect x="136.45" y="163.9" width="4.4" height="4.6" rx="1" fill="#ff9a14"/>
<text x="138.65" y="167.9" font-family="'Liberation Serif', 'DejaVu Serif', serif" font-size="4.6" font-weight="bold" fill="#ffe0a0" text-anchor="middle">T</text>
<path d="M136.85 227.25h3.6l-1.8 2z" fill="#ff9a14"/>
<rect x="136.45" y="229.85" width="4.4" height="4.6" rx="1" fill="#ff9a14"/>
<text x="138.65" y="233.85" font-family="'Liberation Serif', 'DejaVu Serif', serif" font-size="4.6" font-weight="bold" fill="#ffe0a0" text-anchor="middle">T</text>
<path d="M412.85 162.7h3.6l-1.8 2z" fill="#ff9a14"/>
<rect x="412.45" y="165.3" width="4.4" height="4.6" rx="1" fill="#ff9a14"/>
<text x="414.65" y="169.3" font-family="'Liberation Serif', 'DejaVu Serif', serif" font-size="4.6" font-weight="bold" fill="#ffe0a0" text-anchor="middle">T</text>
<path d="M412.85 228.85h3.6l-1.8 2z" fill="#ff9a14"/>
<rect x="412.45" y="231.45" width="4.4" height="4.6" rx="1" fill="#ff9a14"/>
<text x="414.65" y="235.45" font-family="'Liberation Serif', 'DejaVu Serif', serif" font-size="4.6" font-weight="bold" fill="#ffe0a0" text-anchor="middle">T</text>
<text x="131.5" y="311.9" font-family="'Liberation Serif', 'DejaVu Serif', serif" font-size="11.8" fill="#111">(<tspan font-weight="bold">a</tspan>)</text>
<text x="405.5" y="314" font-family="'Liberation Serif', 'DejaVu Serif', serif" font-size="12.4" fill="#111">(<tspan font-weight="bold">b</tspan>)</text></svg>
</body></html>
